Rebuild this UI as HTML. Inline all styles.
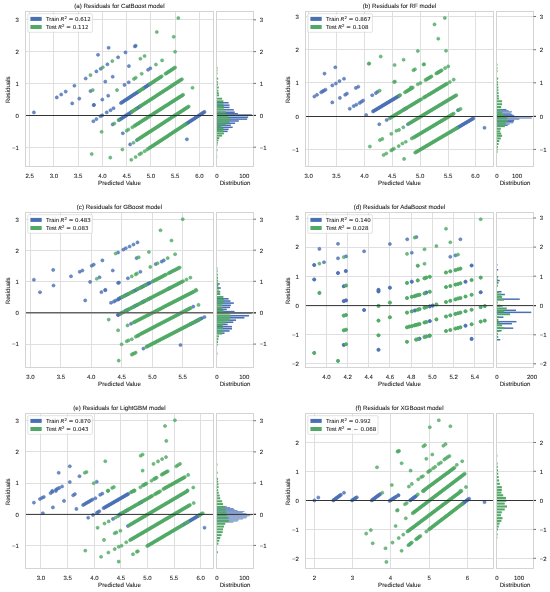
<!DOCTYPE html>
<html><head><meta charset="utf-8"><title>Residual plots</title>
<style>
html,body{margin:0;padding:0;background:#fff}
svg{display:block}
text{font-family:"Liberation Sans",sans-serif;fill:#262626;stroke:#262626;stroke-width:0.08px;text-rendering:geometricPrecision}
.tk{font-size:6.0px}
.lb{font-size:6.15px}
.lg{font-size:5.8px}
.mi{font-family:"DejaVu Sans",sans-serif;font-style:italic;font-size:5.5px}
.ms{font-family:"DejaVu Sans",sans-serif;font-size:4px}
.mr{font-family:"DejaVu Sans",sans-serif;font-size:5.5px}
.gr{stroke:#dfdfdf;stroke-width:1}
.sp{fill:none;stroke:#d4d4d4;stroke-width:1}
</style></head><body>
<svg width="550" height="592" viewBox="0 0 550 592">
<rect width="550" height="592" fill="#fff"/>
<line x1="29.5" y1="11.5" x2="29.5" y2="166.5" class="gr"/>
<line x1="53.5" y1="11.5" x2="53.5" y2="166.5" class="gr"/>
<line x1="78.5" y1="11.5" x2="78.5" y2="166.5" class="gr"/>
<line x1="102.5" y1="11.5" x2="102.5" y2="166.5" class="gr"/>
<line x1="126.5" y1="11.5" x2="126.5" y2="166.5" class="gr"/>
<line x1="150.5" y1="11.5" x2="150.5" y2="166.5" class="gr"/>
<line x1="175.5" y1="11.5" x2="175.5" y2="166.5" class="gr"/>
<line x1="199.5" y1="11.5" x2="199.5" y2="166.5" class="gr"/>
<line x1="25.5" y1="19.5" x2="213.5" y2="19.5" class="gr"/>
<line x1="216.5" y1="19.5" x2="253.5" y2="19.5" class="gr"/>
<line x1="25.5" y1="51.5" x2="213.5" y2="51.5" class="gr"/>
<line x1="216.5" y1="51.5" x2="253.5" y2="51.5" class="gr"/>
<line x1="25.5" y1="83.5" x2="213.5" y2="83.5" class="gr"/>
<line x1="216.5" y1="83.5" x2="253.5" y2="83.5" class="gr"/>
<line x1="25.5" y1="115.5" x2="213.5" y2="115.5" class="gr"/>
<line x1="216.5" y1="115.5" x2="253.5" y2="115.5" class="gr"/>
<line x1="25.5" y1="147.5" x2="213.5" y2="147.5" class="gr"/>
<line x1="216.5" y1="147.5" x2="253.5" y2="147.5" class="gr"/>
<rect x="216.9" y="102.00" width="11.71" height="1.5" fill="#4a70b4"/>
<rect x="216.9" y="104.42" width="12.64" height="1.5" fill="#4a70b4"/>
<rect x="216.9" y="106.65" width="12.64" height="1.5" fill="#4a70b4"/>
<rect x="216.9" y="109.06" width="16.91" height="1.5" fill="#4a70b4"/>
<rect x="216.9" y="111.48" width="17.84" height="1.5" fill="#4a70b4"/>
<rect x="216.9" y="112.97" width="21.00" height="1.5" fill="#4a70b4"/>
<rect x="216.9" y="114.27" width="34.94" height="1.5" fill="#4a70b4"/>
<rect x="216.9" y="116.50" width="31.23" height="1.5" fill="#4a70b4"/>
<rect x="216.9" y="118.36" width="30.30" height="1.5" fill="#4a70b4"/>
<rect x="216.9" y="120.22" width="21.93" height="1.5" fill="#4a70b4"/>
<rect x="216.9" y="122.45" width="18.22" height="1.5" fill="#4a70b4"/>
<rect x="216.9" y="124.49" width="13.94" height="1.5" fill="#4a70b4"/>
<rect x="216.9" y="126.54" width="15.80" height="1.5" fill="#4a70b4"/>
<rect x="216.9" y="128.58" width="11.71" height="1.5" fill="#4a70b4"/>
<rect x="216.9" y="130.63" width="10.78" height="1.5" fill="#4a70b4"/>
<rect x="216.9" y="66.86" width="0.56" height="1.9" fill="#50a965"/>
<rect x="216.9" y="69.46" width="0.56" height="1.9" fill="#50a965"/>
<rect x="216.9" y="72.43" width="0.56" height="1.9" fill="#50a965"/>
<rect x="216.9" y="77.64" width="1.30" height="1.9" fill="#50a965"/>
<rect x="216.9" y="80.98" width="0.93" height="1.9" fill="#50a965"/>
<rect x="216.9" y="83.59" width="1.12" height="1.9" fill="#50a965"/>
<rect x="216.9" y="86.56" width="1.86" height="1.9" fill="#50a965"/>
<rect x="216.9" y="89.72" width="1.49" height="1.9" fill="#50a965"/>
<rect x="216.9" y="92.14" width="1.86" height="1.9" fill="#50a965"/>
<rect x="216.9" y="94.37" width="2.23" height="1.9" fill="#50a965"/>
<rect x="216.9" y="97.71" width="5.20" height="1.9" fill="#50a965"/>
<rect x="216.9" y="100.31" width="6.51" height="1.9" fill="#50a965"/>
<rect x="216.9" y="103.29" width="6.51" height="1.9" fill="#50a965"/>
<rect x="216.9" y="105.89" width="7.06" height="1.9" fill="#50a965"/>
<rect x="216.9" y="108.31" width="7.06" height="1.9" fill="#50a965"/>
<rect x="216.9" y="111.28" width="8.92" height="1.9" fill="#50a965"/>
<rect x="216.9" y="113.88" width="10.78" height="1.9" fill="#50a965"/>
<rect x="216.9" y="116.30" width="11.71" height="1.9" fill="#50a965"/>
<rect x="216.9" y="118.53" width="13.20" height="1.9" fill="#50a965"/>
<rect x="216.9" y="120.95" width="12.64" height="1.9" fill="#50a965"/>
<rect x="216.9" y="123.36" width="8.92" height="1.9" fill="#50a965"/>
<rect x="216.9" y="125.59" width="4.65" height="1.9" fill="#50a965"/>
<rect x="216.9" y="127.82" width="6.51" height="1.9" fill="#50a965"/>
<rect x="216.9" y="130.05" width="6.51" height="1.9" fill="#50a965"/>
<rect x="216.9" y="132.47" width="7.06" height="1.9" fill="#50a965"/>
<rect x="216.9" y="134.70" width="5.20" height="1.9" fill="#50a965"/>
<rect x="216.9" y="137.12" width="2.42" height="1.9" fill="#50a965"/>
<rect x="216.9" y="139.35" width="1.49" height="1.9" fill="#50a965"/>
<rect x="216.9" y="141.76" width="0.93" height="1.9" fill="#50a965"/>
<rect x="216.9" y="144.18" width="0.56" height="1.9" fill="#50a965"/>
<rect x="216.9" y="149.20" width="0.56" height="1.9" fill="#50a965"/>
<rect x="216.9" y="155.70" width="0.30" height="1.9" fill="#50a965"/>
<g fill="#4a70b4" fill-opacity="0.8" stroke="#4a70b4" stroke-opacity="0.9" stroke-width="0.6"><circle cx="108.6" cy="47.8" r="1.55"/><circle cx="98.0" cy="54.8" r="1.55"/><circle cx="118.1" cy="57.3" r="1.55"/><circle cx="107.4" cy="64.3" r="1.55"/><circle cx="100.7" cy="68.8" r="1.55"/><circle cx="96.4" cy="71.4" r="1.55"/><circle cx="85.7" cy="78.5" r="1.55"/><circle cx="112.7" cy="76.7" r="1.55"/><circle cx="105.3" cy="81.6" r="1.55"/><circle cx="74.4" cy="85.7" r="1.55"/><circle cx="134.9" cy="46.4" r="1.55"/><circle cx="135.7" cy="45.7" r="1.55"/><circle cx="125.5" cy="52.4" r="1.55"/><circle cx="128.9" cy="66.1" r="1.55"/><circle cx="148.1" cy="69.8" r="1.55"/><circle cx="150.3" cy="68.3" r="1.55"/><circle cx="128.7" cy="82.3" r="1.55"/><circle cx="124.5" cy="84.9" r="1.55"/><circle cx="33.9" cy="112.4" r="1.55"/><circle cx="56.8" cy="97.4" r="1.55"/><circle cx="61.2" cy="94.5" r="1.55"/><circle cx="65.7" cy="91.6" r="1.55"/><circle cx="72.2" cy="103.4" r="1.55"/><circle cx="79.3" cy="98.6" r="1.55"/><circle cx="90.5" cy="91.1" r="1.55"/><circle cx="108.2" cy="95.7" r="1.55"/><circle cx="102.3" cy="99.6" r="1.55"/><circle cx="93.7" cy="105.1" r="1.55"/><circle cx="94.0" cy="104.9" r="1.55"/><circle cx="113.5" cy="108.2" r="1.55"/><circle cx="110.5" cy="110.2" r="1.55"/><circle cx="106.7" cy="112.4" r="1.55"/><circle cx="102.3" cy="115.3" r="1.55"/><circle cx="100.5" cy="116.2" r="1.55"/><circle cx="96.4" cy="119.1" r="1.55"/><circle cx="93.4" cy="121.2" r="1.55"/><circle cx="112.7" cy="124.4" r="1.55"/><circle cx="122.8" cy="133.3" r="1.55"/><circle cx="130.1" cy="144.4" r="1.55"/><circle cx="136.9" cy="140.1" r="1.55"/><circle cx="186.9" cy="139.3" r="1.55"/><circle cx="121.0" cy="103.0" r="1.55"/><circle cx="121.9" cy="102.4" r="1.55"/><circle cx="122.8" cy="101.8" r="1.55"/><circle cx="123.7" cy="101.2" r="1.55"/><circle cx="124.6" cy="100.6" r="1.55"/><circle cx="125.5" cy="100.0" r="1.55"/><circle cx="126.4" cy="99.5" r="1.55"/><circle cx="127.3" cy="98.9" r="1.55"/><circle cx="128.2" cy="98.3" r="1.55"/><circle cx="129.1" cy="97.7" r="1.55"/><circle cx="130.0" cy="97.1" r="1.55"/><circle cx="130.9" cy="96.5" r="1.55"/><circle cx="131.8" cy="95.9" r="1.55"/><circle cx="132.7" cy="95.3" r="1.55"/><circle cx="133.6" cy="94.7" r="1.55"/><circle cx="134.5" cy="94.1" r="1.55"/><circle cx="135.4" cy="93.6" r="1.55"/><circle cx="136.3" cy="93.0" r="1.55"/><circle cx="137.2" cy="92.4" r="1.55"/><circle cx="138.1" cy="91.8" r="1.55"/><circle cx="139.0" cy="91.2" r="1.55"/><circle cx="143.0" cy="88.6" r="1.55"/><circle cx="143.9" cy="88.0" r="1.55"/><circle cx="144.8" cy="87.4" r="1.55"/><circle cx="145.6" cy="86.8" r="1.55"/><circle cx="146.5" cy="86.3" r="1.55"/><circle cx="147.4" cy="85.7" r="1.55"/><circle cx="148.2" cy="85.1" r="1.55"/><circle cx="149.1" cy="84.5" r="1.55"/><circle cx="150.0" cy="84.0" r="1.55"/><circle cx="119.0" cy="120.1" r="1.55"/><circle cx="119.9" cy="119.5" r="1.55"/><circle cx="120.8" cy="118.9" r="1.55"/><circle cx="121.7" cy="118.3" r="1.55"/><circle cx="122.7" cy="117.7" r="1.55"/><circle cx="123.6" cy="117.1" r="1.55"/><circle cx="124.5" cy="116.5" r="1.55"/><circle cx="125.4" cy="115.9" r="1.55"/><circle cx="126.3" cy="115.3" r="1.55"/><circle cx="127.2" cy="114.7" r="1.55"/><circle cx="128.1" cy="114.2" r="1.55"/><circle cx="129.1" cy="113.6" r="1.55"/><circle cx="130.0" cy="113.0" r="1.55"/><circle cx="130.9" cy="112.4" r="1.55"/><circle cx="131.8" cy="111.8" r="1.55"/><circle cx="136.0" cy="109.0" r="1.55"/><circle cx="137.0" cy="108.4" r="1.55"/><circle cx="138.0" cy="107.7" r="1.55"/><circle cx="139.0" cy="107.1" r="1.55"/><circle cx="140.0" cy="106.4" r="1.55"/><circle cx="185.7" cy="124.2" r="1.55"/><circle cx="186.6" cy="123.6" r="1.55"/><circle cx="187.6" cy="123.0" r="1.55"/><circle cx="188.5" cy="122.4" r="1.55"/><circle cx="189.5" cy="121.7" r="1.55"/><circle cx="190.4" cy="121.1" r="1.55"/><circle cx="191.3" cy="120.5" r="1.55"/><circle cx="192.3" cy="119.9" r="1.55"/><circle cx="193.2" cy="119.3" r="1.55"/><circle cx="194.2" cy="118.7" r="1.55"/><circle cx="195.1" cy="118.1" r="1.55"/><circle cx="196.0" cy="117.4" r="1.55"/><circle cx="197.0" cy="116.8" r="1.55"/><circle cx="197.9" cy="116.2" r="1.55"/><circle cx="198.9" cy="115.6" r="1.55"/><circle cx="199.8" cy="115.0" r="1.55"/><circle cx="200.7" cy="114.4" r="1.55"/><circle cx="201.7" cy="113.7" r="1.55"/><circle cx="202.6" cy="113.1" r="1.55"/><circle cx="203.6" cy="112.5" r="1.55"/><circle cx="204.5" cy="111.9" r="1.55"/></g>
<g fill="#50a965" fill-opacity="0.8" stroke="#50a965" stroke-opacity="0.9" stroke-width="0.6"><circle cx="112.3" cy="61.1" r="1.55"/><circle cx="102.8" cy="67.3" r="1.55"/><circle cx="90.5" cy="75.1" r="1.55"/><circle cx="178.3" cy="18.0" r="1.55"/><circle cx="156.8" cy="32.0" r="1.55"/><circle cx="173.7" cy="36.8" r="1.55"/><circle cx="175.1" cy="51.7" r="1.55"/><circle cx="140.4" cy="58.7" r="1.55"/><circle cx="144.6" cy="56.0" r="1.55"/><circle cx="162.1" cy="60.4" r="1.55"/><circle cx="155.9" cy="64.5" r="1.55"/><circle cx="141.7" cy="73.7" r="1.55"/><circle cx="134.0" cy="78.9" r="1.55"/><circle cx="135.7" cy="77.7" r="1.55"/><circle cx="192.5" cy="87.8" r="1.55"/><circle cx="92.7" cy="90.1" r="1.55"/><circle cx="117.0" cy="90.1" r="1.55"/><circle cx="118.7" cy="120.0" r="1.55"/><circle cx="114.4" cy="123.5" r="1.55"/><circle cx="101.6" cy="131.8" r="1.55"/><circle cx="91.7" cy="154.0" r="1.55"/><circle cx="110.3" cy="157.6" r="1.55"/><circle cx="126.7" cy="130.7" r="1.55"/><circle cx="128.4" cy="129.5" r="1.55"/><circle cx="132.3" cy="127.3" r="1.55"/><circle cx="133.5" cy="142.7" r="1.55"/><circle cx="131.3" cy="159.8" r="1.55"/><circle cx="135.6" cy="157.0" r="1.55"/><circle cx="139.5" cy="154.3" r="1.55"/><circle cx="141.2" cy="153.3" r="1.55"/><circle cx="144.6" cy="151.2" r="1.55"/><circle cx="147.2" cy="149.5" r="1.55"/><circle cx="122.4" cy="149.5" r="1.55"/><circle cx="139.0" cy="91.2" r="1.55"/><circle cx="140.0" cy="90.5" r="1.55"/><circle cx="141.0" cy="89.9" r="1.55"/><circle cx="142.0" cy="89.2" r="1.55"/><circle cx="143.0" cy="88.6" r="1.55"/><circle cx="150.0" cy="84.0" r="1.55"/><circle cx="150.9" cy="83.4" r="1.55"/><circle cx="151.8" cy="82.8" r="1.55"/><circle cx="152.7" cy="82.2" r="1.55"/><circle cx="153.6" cy="81.6" r="1.55"/><circle cx="154.5" cy="81.0" r="1.55"/><circle cx="155.4" cy="80.4" r="1.55"/><circle cx="156.3" cy="79.8" r="1.55"/><circle cx="157.2" cy="79.3" r="1.55"/><circle cx="158.1" cy="78.7" r="1.55"/><circle cx="159.0" cy="78.1" r="1.55"/><circle cx="159.9" cy="77.5" r="1.55"/><circle cx="160.8" cy="76.9" r="1.55"/><circle cx="161.7" cy="76.3" r="1.55"/><circle cx="165.5" cy="73.8" r="1.55"/><circle cx="166.5" cy="73.2" r="1.55"/><circle cx="167.4" cy="72.5" r="1.55"/><circle cx="168.4" cy="71.9" r="1.55"/><circle cx="169.3" cy="71.3" r="1.55"/><circle cx="170.3" cy="70.7" r="1.55"/><circle cx="171.3" cy="70.0" r="1.55"/><circle cx="172.2" cy="69.4" r="1.55"/><circle cx="173.2" cy="68.8" r="1.55"/><circle cx="174.1" cy="68.1" r="1.55"/><circle cx="175.1" cy="67.5" r="1.55"/><circle cx="131.8" cy="111.8" r="1.55"/><circle cx="132.6" cy="111.2" r="1.55"/><circle cx="133.5" cy="110.7" r="1.55"/><circle cx="134.3" cy="110.1" r="1.55"/><circle cx="135.2" cy="109.6" r="1.55"/><circle cx="136.0" cy="109.0" r="1.55"/><circle cx="140.0" cy="106.4" r="1.55"/><circle cx="140.9" cy="105.8" r="1.55"/><circle cx="141.9" cy="105.2" r="1.55"/><circle cx="142.8" cy="104.6" r="1.55"/><circle cx="143.7" cy="104.0" r="1.55"/><circle cx="144.7" cy="103.4" r="1.55"/><circle cx="145.6" cy="102.8" r="1.55"/><circle cx="146.5" cy="102.2" r="1.55"/><circle cx="147.4" cy="101.6" r="1.55"/><circle cx="148.4" cy="101.0" r="1.55"/><circle cx="149.3" cy="100.4" r="1.55"/><circle cx="150.2" cy="99.8" r="1.55"/><circle cx="151.2" cy="99.2" r="1.55"/><circle cx="152.1" cy="98.6" r="1.55"/><circle cx="153.0" cy="98.0" r="1.55"/><circle cx="154.0" cy="97.4" r="1.55"/><circle cx="154.9" cy="96.8" r="1.55"/><circle cx="155.8" cy="96.2" r="1.55"/><circle cx="156.8" cy="95.5" r="1.55"/><circle cx="157.7" cy="94.9" r="1.55"/><circle cx="158.6" cy="94.3" r="1.55"/><circle cx="159.6" cy="93.7" r="1.55"/><circle cx="160.5" cy="93.1" r="1.55"/><circle cx="161.4" cy="92.5" r="1.55"/><circle cx="162.3" cy="91.9" r="1.55"/><circle cx="163.3" cy="91.3" r="1.55"/><circle cx="164.2" cy="90.7" r="1.55"/><circle cx="165.1" cy="90.1" r="1.55"/><circle cx="166.1" cy="89.5" r="1.55"/><circle cx="167.0" cy="88.9" r="1.55"/><circle cx="167.9" cy="88.3" r="1.55"/><circle cx="168.9" cy="87.7" r="1.55"/><circle cx="169.8" cy="87.1" r="1.55"/><circle cx="170.7" cy="86.5" r="1.55"/><circle cx="171.7" cy="85.9" r="1.55"/><circle cx="172.6" cy="85.3" r="1.55"/><circle cx="173.5" cy="84.6" r="1.55"/><circle cx="174.5" cy="84.0" r="1.55"/><circle cx="175.4" cy="83.4" r="1.55"/><circle cx="176.3" cy="82.8" r="1.55"/><circle cx="177.2" cy="82.2" r="1.55"/><circle cx="178.2" cy="81.6" r="1.55"/><circle cx="179.1" cy="81.0" r="1.55"/><circle cx="180.0" cy="80.4" r="1.55"/><circle cx="181.0" cy="79.8" r="1.55"/><circle cx="181.9" cy="79.2" r="1.55"/><circle cx="134.4" cy="125.9" r="1.55"/><circle cx="135.3" cy="125.3" r="1.55"/><circle cx="136.2" cy="124.7" r="1.55"/><circle cx="137.2" cy="124.1" r="1.55"/><circle cx="138.1" cy="123.6" r="1.55"/><circle cx="139.0" cy="123.0" r="1.55"/><circle cx="139.9" cy="122.4" r="1.55"/><circle cx="140.8" cy="121.8" r="1.55"/><circle cx="141.8" cy="121.2" r="1.55"/><circle cx="142.7" cy="120.6" r="1.55"/><circle cx="143.6" cy="120.0" r="1.55"/><circle cx="144.5" cy="119.4" r="1.55"/><circle cx="145.4" cy="118.9" r="1.55"/><circle cx="146.3" cy="118.3" r="1.55"/><circle cx="147.3" cy="117.7" r="1.55"/><circle cx="148.2" cy="117.1" r="1.55"/><circle cx="149.1" cy="116.5" r="1.55"/><circle cx="150.0" cy="115.9" r="1.55"/><circle cx="150.9" cy="115.3" r="1.55"/><circle cx="151.9" cy="114.8" r="1.55"/><circle cx="152.8" cy="114.2" r="1.55"/><circle cx="153.7" cy="113.6" r="1.55"/><circle cx="154.6" cy="113.0" r="1.55"/><circle cx="155.5" cy="112.4" r="1.55"/><circle cx="156.5" cy="111.8" r="1.55"/><circle cx="157.4" cy="111.2" r="1.55"/><circle cx="158.3" cy="110.6" r="1.55"/><circle cx="159.2" cy="110.1" r="1.55"/><circle cx="160.1" cy="109.5" r="1.55"/><circle cx="161.0" cy="108.9" r="1.55"/><circle cx="162.0" cy="108.3" r="1.55"/><circle cx="162.9" cy="107.7" r="1.55"/><circle cx="163.8" cy="107.1" r="1.55"/><circle cx="164.7" cy="106.5" r="1.55"/><circle cx="165.6" cy="105.9" r="1.55"/><circle cx="166.6" cy="105.4" r="1.55"/><circle cx="167.5" cy="104.8" r="1.55"/><circle cx="168.4" cy="104.2" r="1.55"/><circle cx="169.3" cy="103.6" r="1.55"/><circle cx="170.2" cy="103.0" r="1.55"/><circle cx="171.2" cy="102.4" r="1.55"/><circle cx="172.1" cy="101.8" r="1.55"/><circle cx="173.0" cy="101.3" r="1.55"/><circle cx="173.9" cy="100.7" r="1.55"/><circle cx="174.8" cy="100.1" r="1.55"/><circle cx="175.7" cy="99.5" r="1.55"/><circle cx="176.7" cy="98.9" r="1.55"/><circle cx="177.6" cy="98.3" r="1.55"/><circle cx="178.5" cy="97.7" r="1.55"/><circle cx="179.4" cy="97.1" r="1.55"/><circle cx="180.3" cy="96.6" r="1.55"/><circle cx="181.3" cy="96.0" r="1.55"/><circle cx="182.2" cy="95.4" r="1.55"/><circle cx="183.1" cy="94.8" r="1.55"/><circle cx="138.1" cy="139.3" r="1.55"/><circle cx="139.0" cy="138.7" r="1.55"/><circle cx="139.9" cy="138.1" r="1.55"/><circle cx="140.9" cy="137.5" r="1.55"/><circle cx="141.8" cy="136.9" r="1.55"/><circle cx="142.7" cy="136.3" r="1.55"/><circle cx="143.6" cy="135.7" r="1.55"/><circle cx="144.5" cy="135.1" r="1.55"/><circle cx="145.5" cy="134.5" r="1.55"/><circle cx="146.4" cy="133.9" r="1.55"/><circle cx="147.3" cy="133.3" r="1.55"/><circle cx="148.2" cy="132.7" r="1.55"/><circle cx="149.1" cy="132.1" r="1.55"/><circle cx="150.1" cy="131.5" r="1.55"/><circle cx="151.0" cy="131.0" r="1.55"/><circle cx="151.9" cy="130.4" r="1.55"/><circle cx="152.8" cy="129.8" r="1.55"/><circle cx="153.7" cy="129.2" r="1.55"/><circle cx="154.7" cy="128.6" r="1.55"/><circle cx="155.6" cy="128.0" r="1.55"/><circle cx="156.5" cy="127.4" r="1.55"/><circle cx="157.4" cy="126.8" r="1.55"/><circle cx="158.3" cy="126.2" r="1.55"/><circle cx="159.3" cy="125.6" r="1.55"/><circle cx="160.2" cy="125.0" r="1.55"/><circle cx="161.1" cy="124.4" r="1.55"/><circle cx="162.0" cy="123.8" r="1.55"/><circle cx="162.9" cy="123.2" r="1.55"/><circle cx="163.9" cy="122.6" r="1.55"/><circle cx="164.8" cy="122.0" r="1.55"/><circle cx="165.7" cy="121.4" r="1.55"/><circle cx="166.6" cy="120.8" r="1.55"/><circle cx="167.5" cy="120.2" r="1.55"/><circle cx="168.5" cy="119.6" r="1.55"/><circle cx="169.4" cy="119.0" r="1.55"/><circle cx="170.3" cy="118.4" r="1.55"/><circle cx="171.2" cy="117.8" r="1.55"/><circle cx="172.1" cy="117.2" r="1.55"/><circle cx="173.1" cy="116.6" r="1.55"/><circle cx="174.0" cy="116.0" r="1.55"/><circle cx="174.9" cy="115.4" r="1.55"/><circle cx="175.8" cy="114.8" r="1.55"/><circle cx="176.7" cy="114.3" r="1.55"/><circle cx="177.7" cy="113.7" r="1.55"/><circle cx="178.6" cy="113.1" r="1.55"/><circle cx="179.5" cy="112.5" r="1.55"/><circle cx="180.4" cy="111.9" r="1.55"/><circle cx="181.3" cy="111.3" r="1.55"/><circle cx="182.3" cy="110.7" r="1.55"/><circle cx="183.2" cy="110.1" r="1.55"/><circle cx="184.1" cy="109.5" r="1.55"/><circle cx="185.0" cy="108.9" r="1.55"/><circle cx="185.9" cy="108.3" r="1.55"/><circle cx="186.9" cy="107.7" r="1.55"/><circle cx="187.8" cy="107.1" r="1.55"/><circle cx="188.7" cy="106.5" r="1.55"/><circle cx="148.9" cy="148.3" r="1.55"/><circle cx="149.8" cy="147.7" r="1.55"/><circle cx="150.7" cy="147.1" r="1.55"/><circle cx="151.7" cy="146.5" r="1.55"/><circle cx="152.6" cy="145.9" r="1.55"/><circle cx="153.5" cy="145.3" r="1.55"/><circle cx="154.4" cy="144.7" r="1.55"/><circle cx="155.3" cy="144.1" r="1.55"/><circle cx="156.3" cy="143.5" r="1.55"/><circle cx="157.2" cy="142.9" r="1.55"/><circle cx="158.1" cy="142.3" r="1.55"/><circle cx="159.0" cy="141.7" r="1.55"/><circle cx="159.9" cy="141.1" r="1.55"/><circle cx="160.9" cy="140.5" r="1.55"/><circle cx="161.8" cy="139.9" r="1.55"/><circle cx="162.7" cy="139.3" r="1.55"/><circle cx="163.6" cy="138.7" r="1.55"/><circle cx="164.5" cy="138.1" r="1.55"/><circle cx="165.5" cy="137.5" r="1.55"/><circle cx="166.4" cy="136.9" r="1.55"/><circle cx="167.3" cy="136.3" r="1.55"/><circle cx="168.2" cy="135.7" r="1.55"/><circle cx="169.1" cy="135.0" r="1.55"/><circle cx="170.1" cy="134.4" r="1.55"/><circle cx="171.0" cy="133.8" r="1.55"/><circle cx="171.9" cy="133.2" r="1.55"/><circle cx="172.8" cy="132.6" r="1.55"/><circle cx="173.7" cy="132.0" r="1.55"/><circle cx="174.7" cy="131.4" r="1.55"/><circle cx="175.6" cy="130.8" r="1.55"/><circle cx="176.5" cy="130.2" r="1.55"/><circle cx="177.4" cy="129.6" r="1.55"/><circle cx="178.3" cy="129.0" r="1.55"/><circle cx="179.3" cy="128.4" r="1.55"/><circle cx="180.2" cy="127.8" r="1.55"/><circle cx="181.1" cy="127.2" r="1.55"/><circle cx="182.0" cy="126.6" r="1.55"/><circle cx="182.9" cy="126.0" r="1.55"/><circle cx="183.9" cy="125.4" r="1.55"/><circle cx="184.8" cy="124.8" r="1.55"/><circle cx="185.7" cy="124.2" r="1.55"/></g>
<line x1="25.5" y1="115.5" x2="213.5" y2="115.5" stroke="#333" stroke-width="1.0"/>
<line x1="216.5" y1="115.5" x2="256.0" y2="115.5" stroke="#333" stroke-width="1.0"/>
<rect x="25.5" y="11.5" width="188.0" height="155.0" class="sp"/>
<rect x="216.5" y="11.5" width="37.0" height="155.0" class="sp"/>
<text x="29.6" y="178.3" class="tk" text-anchor="middle">2.5</text>
<text x="53.8" y="178.3" class="tk" text-anchor="middle">3.0</text>
<text x="78.1" y="178.3" class="tk" text-anchor="middle">3.5</text>
<text x="102.3" y="178.3" class="tk" text-anchor="middle">4.0</text>
<text x="126.6" y="178.3" class="tk" text-anchor="middle">4.5</text>
<text x="150.8" y="178.3" class="tk" text-anchor="middle">5.0</text>
<text x="175.1" y="178.3" class="tk" text-anchor="middle">5.5</text>
<text x="199.3" y="178.3" class="tk" text-anchor="middle">6.0</text>
<text x="216.8" y="178.3" class="tk" text-anchor="middle">0</text>
<text x="244.3" y="178.3" class="tk" text-anchor="middle">100</text>
<text x="18.8" y="22.150000000000002" class="tk" text-anchor="end">3</text>
<line x1="253.5" y1="19.8" x2="256.0" y2="19.8" stroke="#333" stroke-width="0.7"/>
<text x="259.8" y="22.150000000000002" class="tk">3</text>
<text x="18.8" y="53.95" class="tk" text-anchor="end">2</text>
<line x1="253.5" y1="51.6" x2="256.0" y2="51.6" stroke="#333" stroke-width="0.7"/>
<text x="259.8" y="53.95" class="tk">2</text>
<text x="18.8" y="85.75" class="tk" text-anchor="end">1</text>
<line x1="253.5" y1="83.4" x2="256.0" y2="83.4" stroke="#333" stroke-width="0.7"/>
<text x="259.8" y="85.75" class="tk">1</text>
<text x="18.8" y="117.64999999999999" class="tk" text-anchor="end">0</text>
<line x1="253.5" y1="115.3" x2="256.0" y2="115.3" stroke="#333" stroke-width="0.7"/>
<text x="259.8" y="117.64999999999999" class="tk">0</text>
<text x="18.8" y="149.54999999999998" class="tk" text-anchor="end">−1</text>
<line x1="253.5" y1="147.2" x2="256.0" y2="147.2" stroke="#333" stroke-width="0.7"/>
<text x="259.8" y="149.54999999999998" class="tk">−1</text>
<text x="119.5" y="185.3" class="lb" text-anchor="middle">Predicted Value</text>
<text x="235.0" y="185.3" class="lb" text-anchor="middle">Distribution</text>
<text transform="translate(9.7,89.8) rotate(-90)" class="lb" text-anchor="middle">Residuals</text>
<text x="119.5" y="8.1" class="lb" text-anchor="middle">(a) Residuals for CatBoost model</text>
<rect x="27.8" y="13.7" width="64.6" height="18.6" rx="1" fill="#fff" fill-opacity="0.8" stroke="#d0d0d0" stroke-width="0.6"/>
<rect x="30.400000000000002" y="16.9" width="11.3" height="4" fill="#4a70b4"/>
<rect x="30.400000000000002" y="25.0" width="11.3" height="4" fill="#50a965"/>
<text x="46.0" y="21.0" class="lg">Train <tspan class="mi">R</tspan><tspan class="ms" dy="-2.2">2</tspan><tspan class="mr" dy="2.2"> = 0.612</tspan></text>
<text x="46.0" y="29.1" class="lg">Test <tspan class="mi">R</tspan><tspan class="ms" dy="-2.2">2</tspan><tspan class="mr" dy="2.2"> = 0.112</tspan></text>
<line x1="308.5" y1="11.5" x2="308.5" y2="166.5" class="gr"/>
<line x1="336.5" y1="11.5" x2="336.5" y2="166.5" class="gr"/>
<line x1="364.5" y1="11.5" x2="364.5" y2="166.5" class="gr"/>
<line x1="392.5" y1="11.5" x2="392.5" y2="166.5" class="gr"/>
<line x1="420.5" y1="11.5" x2="420.5" y2="166.5" class="gr"/>
<line x1="448.5" y1="11.5" x2="448.5" y2="166.5" class="gr"/>
<line x1="475.5" y1="11.5" x2="475.5" y2="166.5" class="gr"/>
<line x1="305.5" y1="16.5" x2="493.5" y2="16.5" class="gr"/>
<line x1="496.5" y1="16.5" x2="533.5" y2="16.5" class="gr"/>
<line x1="305.5" y1="49.5" x2="493.5" y2="49.5" class="gr"/>
<line x1="496.5" y1="49.5" x2="533.5" y2="49.5" class="gr"/>
<line x1="305.5" y1="82.5" x2="493.5" y2="82.5" class="gr"/>
<line x1="496.5" y1="82.5" x2="533.5" y2="82.5" class="gr"/>
<line x1="305.5" y1="116.5" x2="493.5" y2="116.5" class="gr"/>
<line x1="496.5" y1="116.5" x2="533.5" y2="116.5" class="gr"/>
<line x1="305.5" y1="149.5" x2="493.5" y2="149.5" class="gr"/>
<line x1="496.5" y1="149.5" x2="533.5" y2="149.5" class="gr"/>
<rect x="496.9" y="108.94" width="9.48" height="1.0" fill="#4a70b4"/>
<rect x="496.9" y="110.24" width="11.71" height="1.0" fill="#4a70b4"/>
<rect x="496.9" y="111.36" width="15.06" height="1.0" fill="#4a70b4"/>
<rect x="496.9" y="112.66" width="13.94" height="1.0" fill="#4a70b4"/>
<rect x="496.9" y="113.78" width="15.43" height="1.0" fill="#4a70b4"/>
<rect x="496.9" y="114.89" width="17.29" height="1.0" fill="#4a70b4"/>
<rect x="496.9" y="116.19" width="20.07" height="1.0" fill="#4a70b4"/>
<rect x="496.9" y="117.49" width="34.94" height="1.0" fill="#4a70b4"/>
<rect x="496.9" y="118.61" width="22.49" height="1.0" fill="#4a70b4"/>
<rect x="496.9" y="119.91" width="17.29" height="1.0" fill="#4a70b4"/>
<rect x="496.9" y="121.02" width="16.91" height="1.0" fill="#4a70b4"/>
<rect x="496.9" y="122.33" width="16.36" height="1.0" fill="#4a70b4"/>
<rect x="496.9" y="123.63" width="12.64" height="1.0" fill="#4a70b4"/>
<rect x="496.9" y="124.93" width="10.78" height="1.0" fill="#4a70b4"/>
<rect x="496.9" y="63.65" width="0.56" height="2.0" fill="#50a965"/>
<rect x="496.9" y="67.36" width="0.56" height="2.0" fill="#50a965"/>
<rect x="496.9" y="70.15" width="0.56" height="2.0" fill="#50a965"/>
<rect x="496.9" y="77.59" width="1.30" height="2.0" fill="#50a965"/>
<rect x="496.9" y="80.93" width="0.93" height="2.0" fill="#50a965"/>
<rect x="496.9" y="83.54" width="1.30" height="2.0" fill="#50a965"/>
<rect x="496.9" y="86.51" width="1.49" height="2.0" fill="#50a965"/>
<rect x="496.9" y="89.30" width="1.49" height="2.0" fill="#50a965"/>
<rect x="496.9" y="92.09" width="1.67" height="2.0" fill="#50a965"/>
<rect x="496.9" y="94.87" width="1.86" height="2.0" fill="#50a965"/>
<rect x="496.9" y="97.48" width="2.04" height="2.0" fill="#50a965"/>
<rect x="496.9" y="100.26" width="5.20" height="2.0" fill="#50a965"/>
<rect x="496.9" y="103.24" width="5.20" height="2.0" fill="#50a965"/>
<rect x="496.9" y="106.03" width="4.28" height="2.0" fill="#50a965"/>
<rect x="496.9" y="108.81" width="4.65" height="2.0" fill="#50a965"/>
<rect x="496.9" y="111.79" width="5.20" height="2.0" fill="#50a965"/>
<rect x="496.9" y="114.02" width="6.51" height="2.0" fill="#50a965"/>
<rect x="496.9" y="116.99" width="10.22" height="2.0" fill="#50a965"/>
<rect x="496.9" y="119.78" width="10.78" height="2.0" fill="#50a965"/>
<rect x="496.9" y="122.57" width="8.92" height="2.0" fill="#50a965"/>
<rect x="496.9" y="125.17" width="7.99" height="2.0" fill="#50a965"/>
<rect x="496.9" y="127.77" width="3.90" height="2.0" fill="#50a965"/>
<rect x="496.9" y="130.38" width="3.35" height="2.0" fill="#50a965"/>
<rect x="496.9" y="132.61" width="4.28" height="2.0" fill="#50a965"/>
<rect x="496.9" y="134.84" width="5.20" height="2.0" fill="#50a965"/>
<rect x="496.9" y="137.44" width="3.90" height="2.0" fill="#50a965"/>
<rect x="496.9" y="140.04" width="2.42" height="2.0" fill="#50a965"/>
<rect x="496.9" y="143.01" width="1.67" height="2.0" fill="#50a965"/>
<rect x="496.9" y="145.99" width="0.93" height="2.0" fill="#50a965"/>
<rect x="496.9" y="148.59" width="0.74" height="2.0" fill="#50a965"/>
<rect x="496.9" y="151.01" width="0.56" height="2.0" fill="#50a965"/>
<g fill="#4a70b4" fill-opacity="0.8" stroke="#4a70b4" stroke-opacity="0.9" stroke-width="0.6"><circle cx="335.3" cy="67.3" r="1.55"/><circle cx="324.5" cy="73.6" r="1.55"/><circle cx="344.0" cy="78.7" r="1.55"/><circle cx="339.5" cy="81.1" r="1.55"/><circle cx="335.9" cy="83.5" r="1.55"/><circle cx="332.3" cy="85.4" r="1.55"/><circle cx="358.3" cy="86.7" r="1.55"/><circle cx="355.9" cy="87.9" r="1.55"/><circle cx="314.4" cy="96.5" r="1.55"/><circle cx="317.0" cy="94.8" r="1.55"/><circle cx="321.2" cy="92.3" r="1.55"/><circle cx="322.6" cy="91.4" r="1.55"/><circle cx="324.0" cy="90.6" r="1.55"/><circle cx="325.5" cy="89.7" r="1.55"/><circle cx="332.3" cy="102.4" r="1.55"/><circle cx="339.9" cy="97.9" r="1.55"/><circle cx="345.2" cy="94.8" r="1.55"/><circle cx="346.9" cy="93.6" r="1.55"/><circle cx="349.8" cy="108.7" r="1.55"/><circle cx="353.7" cy="106.1" r="1.55"/><circle cx="356.3" cy="104.7" r="1.55"/><circle cx="359.7" cy="102.9" r="1.55"/><circle cx="361.4" cy="101.7" r="1.55"/><circle cx="363.1" cy="100.6" r="1.55"/><circle cx="372.2" cy="95.2" r="1.55"/><circle cx="375.9" cy="93.1" r="1.55"/><circle cx="377.6" cy="91.8" r="1.55"/><circle cx="366.2" cy="115.0" r="1.55"/><circle cx="379.3" cy="124.2" r="1.55"/><circle cx="386.7" cy="120.0" r="1.55"/><circle cx="458.0" cy="110.2" r="1.55"/><circle cx="484.5" cy="127.8" r="1.55"/><circle cx="407.9" cy="124.2" r="1.55"/><circle cx="373.0" cy="111.4" r="1.55"/><circle cx="373.9" cy="110.8" r="1.55"/><circle cx="374.9" cy="110.3" r="1.55"/><circle cx="375.8" cy="109.7" r="1.55"/><circle cx="376.7" cy="109.2" r="1.55"/><circle cx="377.6" cy="108.6" r="1.55"/><circle cx="378.6" cy="108.1" r="1.55"/><circle cx="379.5" cy="107.5" r="1.55"/><circle cx="380.4" cy="107.0" r="1.55"/><circle cx="381.4" cy="106.4" r="1.55"/><circle cx="382.3" cy="105.8" r="1.55"/><circle cx="383.2" cy="105.3" r="1.55"/><circle cx="384.1" cy="104.7" r="1.55"/><circle cx="385.1" cy="104.2" r="1.55"/><circle cx="386.0" cy="103.6" r="1.55"/><circle cx="386.9" cy="103.1" r="1.55"/><circle cx="387.9" cy="102.5" r="1.55"/><circle cx="388.8" cy="102.0" r="1.55"/><circle cx="389.7" cy="101.4" r="1.55"/><circle cx="390.6" cy="100.8" r="1.55"/><circle cx="391.6" cy="100.3" r="1.55"/><circle cx="392.5" cy="99.7" r="1.55"/><circle cx="393.4" cy="99.2" r="1.55"/><circle cx="394.4" cy="98.6" r="1.55"/><circle cx="395.3" cy="98.1" r="1.55"/><circle cx="396.2" cy="97.5" r="1.55"/><circle cx="397.1" cy="97.0" r="1.55"/><circle cx="398.1" cy="96.4" r="1.55"/><circle cx="399.0" cy="95.8" r="1.55"/><circle cx="404.0" cy="109.6" r="1.55"/><circle cx="405.0" cy="109.0" r="1.55"/><circle cx="406.0" cy="108.4" r="1.55"/><circle cx="457.1" cy="127.9" r="1.55"/><circle cx="458.1" cy="127.4" r="1.55"/><circle cx="459.0" cy="126.8" r="1.55"/><circle cx="460.0" cy="126.3" r="1.55"/><circle cx="460.9" cy="125.7" r="1.55"/><circle cx="461.9" cy="125.1" r="1.55"/><circle cx="462.8" cy="124.6" r="1.55"/><circle cx="463.8" cy="124.0" r="1.55"/><circle cx="464.7" cy="123.4" r="1.55"/><circle cx="465.7" cy="122.9" r="1.55"/><circle cx="466.6" cy="122.3" r="1.55"/><circle cx="467.6" cy="121.8" r="1.55"/><circle cx="468.5" cy="121.2" r="1.55"/><circle cx="469.5" cy="120.6" r="1.55"/><circle cx="470.4" cy="120.1" r="1.55"/><circle cx="471.4" cy="119.5" r="1.55"/><circle cx="472.3" cy="119.0" r="1.55"/><circle cx="473.3" cy="118.4" r="1.55"/></g>
<g fill="#50a965" fill-opacity="0.8" stroke="#50a965" stroke-opacity="0.9" stroke-width="0.6"><circle cx="380.7" cy="56.5" r="1.55"/><circle cx="368.7" cy="63.7" r="1.55"/><circle cx="369.3" cy="63.5" r="1.55"/><circle cx="394.6" cy="65.0" r="1.55"/><circle cx="394.2" cy="82.0" r="1.55"/><circle cx="394.9" cy="81.6" r="1.55"/><circle cx="444.8" cy="18.0" r="1.55"/><circle cx="434.5" cy="24.4" r="1.55"/><circle cx="438.3" cy="38.7" r="1.55"/><circle cx="417.8" cy="51.0" r="1.55"/><circle cx="446.0" cy="50.7" r="1.55"/><circle cx="403.6" cy="59.7" r="1.55"/><circle cx="423.6" cy="64.5" r="1.55"/><circle cx="424.1" cy="64.2" r="1.55"/><circle cx="413.5" cy="70.2" r="1.55"/><circle cx="414.9" cy="69.3" r="1.55"/><circle cx="379.7" cy="90.6" r="1.55"/><circle cx="391.3" cy="133.8" r="1.55"/><circle cx="396.4" cy="130.7" r="1.55"/><circle cx="379.9" cy="140.1" r="1.55"/><circle cx="382.3" cy="138.9" r="1.55"/><circle cx="369.9" cy="146.5" r="1.55"/><circle cx="383.6" cy="155.0" r="1.55"/><circle cx="386.2" cy="153.5" r="1.55"/><circle cx="391.3" cy="150.4" r="1.55"/><circle cx="392.5" cy="149.5" r="1.55"/><circle cx="393.9" cy="148.7" r="1.55"/><circle cx="398.7" cy="146.1" r="1.55"/><circle cx="402.4" cy="143.5" r="1.55"/><circle cx="405.8" cy="141.8" r="1.55"/><circle cx="411.8" cy="138.4" r="1.55"/><circle cx="458.5" cy="109.9" r="1.55"/><circle cx="460.5" cy="108.9" r="1.55"/><circle cx="404.1" cy="158.9" r="1.55"/><circle cx="399.0" cy="129.9" r="1.55"/><circle cx="403.3" cy="127.3" r="1.55"/><circle cx="449.8" cy="82.0" r="1.55"/><circle cx="453.7" cy="79.6" r="1.55"/><circle cx="445.1" cy="68.1" r="1.55"/><circle cx="448.2" cy="66.4" r="1.55"/><circle cx="411.0" cy="87.4" r="1.55"/><circle cx="417.8" cy="84.3" r="1.55"/><circle cx="420.4" cy="83.0" r="1.55"/><circle cx="399.3" cy="95.7" r="1.55"/><circle cx="400.2" cy="95.1" r="1.55"/><circle cx="405.0" cy="92.3" r="1.55"/><circle cx="406.0" cy="91.7" r="1.55"/><circle cx="406.9" cy="91.1" r="1.55"/><circle cx="407.9" cy="90.5" r="1.55"/><circle cx="408.9" cy="89.9" r="1.55"/><circle cx="409.8" cy="89.4" r="1.55"/><circle cx="410.8" cy="88.8" r="1.55"/><circle cx="411.7" cy="88.2" r="1.55"/><circle cx="412.7" cy="87.6" r="1.55"/><circle cx="425.5" cy="80.0" r="1.55"/><circle cx="426.5" cy="79.4" r="1.55"/><circle cx="427.5" cy="78.8" r="1.55"/><circle cx="428.5" cy="78.2" r="1.55"/><circle cx="429.5" cy="77.6" r="1.55"/><circle cx="430.5" cy="77.0" r="1.55"/><circle cx="431.5" cy="76.4" r="1.55"/><circle cx="436.3" cy="73.5" r="1.55"/><circle cx="437.2" cy="73.0" r="1.55"/><circle cx="438.1" cy="72.4" r="1.55"/><circle cx="439.0" cy="71.9" r="1.55"/><circle cx="439.9" cy="71.4" r="1.55"/><circle cx="440.8" cy="70.8" r="1.55"/><circle cx="441.7" cy="70.3" r="1.55"/><circle cx="389.6" cy="118.3" r="1.55"/><circle cx="390.6" cy="117.7" r="1.55"/><circle cx="391.5" cy="117.1" r="1.55"/><circle cx="392.5" cy="116.5" r="1.55"/><circle cx="393.4" cy="115.9" r="1.55"/><circle cx="394.4" cy="115.4" r="1.55"/><circle cx="395.4" cy="114.8" r="1.55"/><circle cx="396.3" cy="114.2" r="1.55"/><circle cx="397.3" cy="113.6" r="1.55"/><circle cx="398.2" cy="113.0" r="1.55"/><circle cx="399.2" cy="112.5" r="1.55"/><circle cx="400.2" cy="111.9" r="1.55"/><circle cx="401.1" cy="111.3" r="1.55"/><circle cx="402.1" cy="110.7" r="1.55"/><circle cx="403.0" cy="110.1" r="1.55"/><circle cx="404.0" cy="109.6" r="1.55"/><circle cx="406.0" cy="108.4" r="1.55"/><circle cx="406.9" cy="107.8" r="1.55"/><circle cx="407.9" cy="107.2" r="1.55"/><circle cx="408.9" cy="106.6" r="1.55"/><circle cx="409.8" cy="106.1" r="1.55"/><circle cx="410.8" cy="105.5" r="1.55"/><circle cx="411.7" cy="104.9" r="1.55"/><circle cx="412.6" cy="104.4" r="1.55"/><circle cx="413.6" cy="103.8" r="1.55"/><circle cx="414.6" cy="103.2" r="1.55"/><circle cx="415.5" cy="102.6" r="1.55"/><circle cx="416.4" cy="102.1" r="1.55"/><circle cx="417.4" cy="101.5" r="1.55"/><circle cx="418.3" cy="100.9" r="1.55"/><circle cx="419.3" cy="100.3" r="1.55"/><circle cx="420.2" cy="99.8" r="1.55"/><circle cx="421.2" cy="99.2" r="1.55"/><circle cx="423.8" cy="97.6" r="1.55"/><circle cx="424.6" cy="97.1" r="1.55"/><circle cx="425.5" cy="96.6" r="1.55"/><circle cx="426.3" cy="96.1" r="1.55"/><circle cx="428.0" cy="95.1" r="1.55"/><circle cx="428.9" cy="94.5" r="1.55"/><circle cx="429.9" cy="94.0" r="1.55"/><circle cx="430.9" cy="93.4" r="1.55"/><circle cx="431.8" cy="92.8" r="1.55"/><circle cx="432.8" cy="92.2" r="1.55"/><circle cx="433.7" cy="91.7" r="1.55"/><circle cx="434.6" cy="91.1" r="1.55"/><circle cx="435.6" cy="90.5" r="1.55"/><circle cx="436.6" cy="89.9" r="1.55"/><circle cx="437.5" cy="89.4" r="1.55"/><circle cx="438.4" cy="88.8" r="1.55"/><circle cx="439.4" cy="88.2" r="1.55"/><circle cx="440.4" cy="87.6" r="1.55"/><circle cx="441.3" cy="87.1" r="1.55"/><circle cx="442.2" cy="86.5" r="1.55"/><circle cx="443.2" cy="85.9" r="1.55"/><circle cx="444.1" cy="85.4" r="1.55"/><circle cx="445.1" cy="84.8" r="1.55"/><circle cx="446.1" cy="84.2" r="1.55"/><circle cx="447.0" cy="83.6" r="1.55"/><circle cx="409.3" cy="123.4" r="1.55"/><circle cx="410.2" cy="122.8" r="1.55"/><circle cx="411.2" cy="122.3" r="1.55"/><circle cx="412.1" cy="121.7" r="1.55"/><circle cx="413.1" cy="121.1" r="1.55"/><circle cx="414.0" cy="120.6" r="1.55"/><circle cx="414.9" cy="120.0" r="1.55"/><circle cx="415.9" cy="119.5" r="1.55"/><circle cx="416.8" cy="118.9" r="1.55"/><circle cx="417.8" cy="118.3" r="1.55"/><circle cx="418.7" cy="117.8" r="1.55"/><circle cx="419.6" cy="117.2" r="1.55"/><circle cx="420.6" cy="116.6" r="1.55"/><circle cx="421.5" cy="116.1" r="1.55"/><circle cx="422.5" cy="115.5" r="1.55"/><circle cx="423.4" cy="114.9" r="1.55"/><circle cx="424.3" cy="114.4" r="1.55"/><circle cx="425.3" cy="113.8" r="1.55"/><circle cx="426.2" cy="113.2" r="1.55"/><circle cx="427.2" cy="112.7" r="1.55"/><circle cx="428.1" cy="112.1" r="1.55"/><circle cx="429.0" cy="111.6" r="1.55"/><circle cx="430.0" cy="111.0" r="1.55"/><circle cx="430.9" cy="110.4" r="1.55"/><circle cx="431.9" cy="109.9" r="1.55"/><circle cx="432.8" cy="109.3" r="1.55"/><circle cx="433.7" cy="108.7" r="1.55"/><circle cx="434.7" cy="108.2" r="1.55"/><circle cx="435.6" cy="107.6" r="1.55"/><circle cx="436.6" cy="107.0" r="1.55"/><circle cx="437.5" cy="106.5" r="1.55"/><circle cx="438.4" cy="105.9" r="1.55"/><circle cx="439.4" cy="105.4" r="1.55"/><circle cx="440.3" cy="104.8" r="1.55"/><circle cx="441.3" cy="104.2" r="1.55"/><circle cx="442.2" cy="103.7" r="1.55"/><circle cx="443.1" cy="103.1" r="1.55"/><circle cx="444.1" cy="102.5" r="1.55"/><circle cx="445.0" cy="102.0" r="1.55"/><circle cx="446.0" cy="101.4" r="1.55"/><circle cx="446.9" cy="100.8" r="1.55"/><circle cx="447.8" cy="100.3" r="1.55"/><circle cx="448.8" cy="99.7" r="1.55"/><circle cx="449.7" cy="99.1" r="1.55"/><circle cx="450.7" cy="98.6" r="1.55"/><circle cx="451.6" cy="98.0" r="1.55"/><circle cx="452.5" cy="97.5" r="1.55"/><circle cx="453.5" cy="96.9" r="1.55"/><circle cx="454.4" cy="96.3" r="1.55"/><circle cx="455.4" cy="95.8" r="1.55"/><circle cx="456.3" cy="95.2" r="1.55"/><circle cx="413.5" cy="137.6" r="1.55"/><circle cx="414.4" cy="137.0" r="1.55"/><circle cx="415.4" cy="136.5" r="1.55"/><circle cx="416.3" cy="135.9" r="1.55"/><circle cx="417.2" cy="135.4" r="1.55"/><circle cx="418.2" cy="134.8" r="1.55"/><circle cx="419.1" cy="134.3" r="1.55"/><circle cx="420.0" cy="133.7" r="1.55"/><circle cx="421.0" cy="133.1" r="1.55"/><circle cx="421.9" cy="132.6" r="1.55"/><circle cx="422.8" cy="132.0" r="1.55"/><circle cx="423.8" cy="131.5" r="1.55"/><circle cx="424.7" cy="130.9" r="1.55"/><circle cx="425.7" cy="130.3" r="1.55"/><circle cx="426.6" cy="129.8" r="1.55"/><circle cx="427.5" cy="129.2" r="1.55"/><circle cx="428.5" cy="128.7" r="1.55"/><circle cx="429.4" cy="128.1" r="1.55"/><circle cx="430.3" cy="127.6" r="1.55"/><circle cx="431.3" cy="127.0" r="1.55"/><circle cx="432.2" cy="126.4" r="1.55"/><circle cx="433.1" cy="125.9" r="1.55"/><circle cx="434.1" cy="125.3" r="1.55"/><circle cx="435.0" cy="124.8" r="1.55"/><circle cx="435.9" cy="124.2" r="1.55"/><circle cx="436.9" cy="123.6" r="1.55"/><circle cx="437.8" cy="123.1" r="1.55"/><circle cx="438.7" cy="122.5" r="1.55"/><circle cx="439.7" cy="122.0" r="1.55"/><circle cx="440.6" cy="121.4" r="1.55"/><circle cx="441.5" cy="120.9" r="1.55"/><circle cx="442.5" cy="120.3" r="1.55"/><circle cx="443.4" cy="119.7" r="1.55"/><circle cx="444.4" cy="119.2" r="1.55"/><circle cx="445.3" cy="118.6" r="1.55"/><circle cx="446.2" cy="118.1" r="1.55"/><circle cx="447.2" cy="117.5" r="1.55"/><circle cx="448.1" cy="116.9" r="1.55"/><circle cx="449.0" cy="116.4" r="1.55"/><circle cx="450.0" cy="115.8" r="1.55"/><circle cx="450.9" cy="115.3" r="1.55"/><circle cx="451.8" cy="114.7" r="1.55"/><circle cx="452.8" cy="114.2" r="1.55"/><circle cx="453.7" cy="113.6" r="1.55"/><circle cx="415.2" cy="152.6" r="1.55"/><circle cx="416.2" cy="152.0" r="1.55"/><circle cx="417.1" cy="151.5" r="1.55"/><circle cx="418.1" cy="150.9" r="1.55"/><circle cx="419.0" cy="150.4" r="1.55"/><circle cx="420.0" cy="149.8" r="1.55"/><circle cx="420.9" cy="149.2" r="1.55"/><circle cx="421.9" cy="148.7" r="1.55"/><circle cx="422.8" cy="148.1" r="1.55"/><circle cx="423.8" cy="147.6" r="1.55"/><circle cx="424.7" cy="147.0" r="1.55"/><circle cx="425.7" cy="146.4" r="1.55"/><circle cx="426.6" cy="145.9" r="1.55"/><circle cx="427.6" cy="145.3" r="1.55"/><circle cx="428.5" cy="144.8" r="1.55"/><circle cx="429.5" cy="144.2" r="1.55"/><circle cx="430.4" cy="143.6" r="1.55"/><circle cx="431.4" cy="143.1" r="1.55"/><circle cx="432.3" cy="142.5" r="1.55"/><circle cx="433.3" cy="141.9" r="1.55"/><circle cx="434.2" cy="141.4" r="1.55"/><circle cx="435.2" cy="140.8" r="1.55"/><circle cx="436.1" cy="140.3" r="1.55"/><circle cx="437.1" cy="139.7" r="1.55"/><circle cx="438.1" cy="139.1" r="1.55"/><circle cx="439.0" cy="138.6" r="1.55"/><circle cx="440.0" cy="138.0" r="1.55"/><circle cx="440.9" cy="137.5" r="1.55"/><circle cx="441.9" cy="136.9" r="1.55"/><circle cx="442.8" cy="136.3" r="1.55"/><circle cx="443.8" cy="135.8" r="1.55"/><circle cx="444.7" cy="135.2" r="1.55"/><circle cx="445.7" cy="134.7" r="1.55"/><circle cx="446.6" cy="134.1" r="1.55"/><circle cx="447.6" cy="133.5" r="1.55"/><circle cx="448.5" cy="133.0" r="1.55"/><circle cx="449.5" cy="132.4" r="1.55"/><circle cx="450.4" cy="131.9" r="1.55"/><circle cx="451.4" cy="131.3" r="1.55"/><circle cx="452.3" cy="130.7" r="1.55"/><circle cx="453.3" cy="130.2" r="1.55"/><circle cx="454.2" cy="129.6" r="1.55"/><circle cx="455.2" cy="129.1" r="1.55"/><circle cx="456.1" cy="128.5" r="1.55"/><circle cx="457.1" cy="127.9" r="1.55"/></g>
<line x1="305.5" y1="116.5" x2="493.5" y2="116.5" stroke="#333" stroke-width="1.0"/>
<line x1="496.5" y1="116.5" x2="536.0" y2="116.5" stroke="#333" stroke-width="1.0"/>
<rect x="305.5" y="11.5" width="188.0" height="155.0" class="sp"/>
<rect x="496.5" y="11.5" width="37.0" height="155.0" class="sp"/>
<text x="308.6" y="178.3" class="tk" text-anchor="middle">3.0</text>
<text x="336.4" y="178.3" class="tk" text-anchor="middle">3.5</text>
<text x="364.3" y="178.3" class="tk" text-anchor="middle">4.0</text>
<text x="392.2" y="178.3" class="tk" text-anchor="middle">4.5</text>
<text x="420.2" y="178.3" class="tk" text-anchor="middle">5.0</text>
<text x="448.1" y="178.3" class="tk" text-anchor="middle">5.5</text>
<text x="475.5" y="178.3" class="tk" text-anchor="middle">6.0</text>
<text x="497" y="178.3" class="tk" text-anchor="middle">0</text>
<text x="517" y="178.3" class="tk" text-anchor="middle">100</text>
<text x="298.8" y="18.85" class="tk" text-anchor="end">3</text>
<line x1="533.5" y1="16.5" x2="536.0" y2="16.5" stroke="#333" stroke-width="0.7"/>
<text x="539.8" y="18.85" class="tk">3</text>
<text x="298.8" y="52.050000000000004" class="tk" text-anchor="end">2</text>
<line x1="533.5" y1="49.7" x2="536.0" y2="49.7" stroke="#333" stroke-width="0.7"/>
<text x="539.8" y="52.050000000000004" class="tk">2</text>
<text x="298.8" y="85.14999999999999" class="tk" text-anchor="end">1</text>
<line x1="533.5" y1="82.8" x2="536.0" y2="82.8" stroke="#333" stroke-width="0.7"/>
<text x="539.8" y="85.14999999999999" class="tk">1</text>
<text x="298.8" y="118.55" class="tk" text-anchor="end">0</text>
<line x1="533.5" y1="116.2" x2="536.0" y2="116.2" stroke="#333" stroke-width="0.7"/>
<text x="539.8" y="118.55" class="tk">0</text>
<text x="298.8" y="151.75" class="tk" text-anchor="end">−1</text>
<line x1="533.5" y1="149.4" x2="536.0" y2="149.4" stroke="#333" stroke-width="0.7"/>
<text x="539.8" y="151.75" class="tk">−1</text>
<text x="399.5" y="185.3" class="lb" text-anchor="middle">Predicted Value</text>
<text x="515.0" y="185.3" class="lb" text-anchor="middle">Distribution</text>
<text transform="translate(289.7,89.8) rotate(-90)" class="lb" text-anchor="middle">Residuals</text>
<text x="399.5" y="8.1" class="lb" text-anchor="middle">(b) Residuals for RF model</text>
<rect x="307.8" y="13.7" width="64.6" height="18.6" rx="1" fill="#fff" fill-opacity="0.8" stroke="#d0d0d0" stroke-width="0.6"/>
<rect x="310.40000000000003" y="16.9" width="11.3" height="4" fill="#4a70b4"/>
<rect x="310.40000000000003" y="25.0" width="11.3" height="4" fill="#50a965"/>
<text x="326.0" y="21.0" class="lg">Train <tspan class="mi">R</tspan><tspan class="ms" dy="-2.2">2</tspan><tspan class="mr" dy="2.2"> = 0.867</tspan></text>
<text x="326.0" y="29.1" class="lg">Test <tspan class="mi">R</tspan><tspan class="ms" dy="-2.2">2</tspan><tspan class="mr" dy="2.2"> = 0.108</tspan></text>
<line x1="30.5" y1="212.5" x2="30.5" y2="367.5" class="gr"/>
<line x1="60.5" y1="212.5" x2="60.5" y2="367.5" class="gr"/>
<line x1="91.5" y1="212.5" x2="91.5" y2="367.5" class="gr"/>
<line x1="121.5" y1="212.5" x2="121.5" y2="367.5" class="gr"/>
<line x1="152.5" y1="212.5" x2="152.5" y2="367.5" class="gr"/>
<line x1="182.5" y1="212.5" x2="182.5" y2="367.5" class="gr"/>
<line x1="25.5" y1="219.5" x2="213.5" y2="219.5" class="gr"/>
<line x1="216.5" y1="219.5" x2="253.5" y2="219.5" class="gr"/>
<line x1="25.5" y1="250.5" x2="213.5" y2="250.5" class="gr"/>
<line x1="216.5" y1="250.5" x2="253.5" y2="250.5" class="gr"/>
<line x1="25.5" y1="281.5" x2="213.5" y2="281.5" class="gr"/>
<line x1="216.5" y1="281.5" x2="253.5" y2="281.5" class="gr"/>
<line x1="25.5" y1="312.5" x2="213.5" y2="312.5" class="gr"/>
<line x1="216.5" y1="312.5" x2="253.5" y2="312.5" class="gr"/>
<line x1="25.5" y1="344.5" x2="213.5" y2="344.5" class="gr"/>
<line x1="216.5" y1="344.5" x2="253.5" y2="344.5" class="gr"/>
<rect x="216.9" y="283.13" width="2.79" height="1.6" fill="#4a70b4"/>
<rect x="216.9" y="287.22" width="3.90" height="1.6" fill="#4a70b4"/>
<rect x="216.9" y="290.94" width="3.35" height="1.6" fill="#4a70b4"/>
<rect x="216.9" y="298.00" width="11.71" height="1.6" fill="#4a70b4"/>
<rect x="216.9" y="300.23" width="13.57" height="1.6" fill="#4a70b4"/>
<rect x="216.9" y="302.28" width="16.91" height="1.6" fill="#4a70b4"/>
<rect x="216.9" y="304.51" width="13.94" height="1.6" fill="#4a70b4"/>
<rect x="216.9" y="306.55" width="13.20" height="1.6" fill="#4a70b4"/>
<rect x="216.9" y="308.60" width="9.85" height="1.6" fill="#4a70b4"/>
<rect x="216.9" y="310.83" width="17.66" height="1.6" fill="#4a70b4"/>
<rect x="216.9" y="312.13" width="34.94" height="1.6" fill="#4a70b4"/>
<rect x="216.9" y="314.92" width="32.16" height="1.6" fill="#4a70b4"/>
<rect x="216.9" y="316.96" width="27.51" height="1.6" fill="#4a70b4"/>
<rect x="216.9" y="319.38" width="19.14" height="1.6" fill="#4a70b4"/>
<rect x="216.9" y="321.42" width="16.36" height="1.6" fill="#4a70b4"/>
<rect x="216.9" y="323.65" width="10.78" height="1.6" fill="#4a70b4"/>
<rect x="216.9" y="325.88" width="15.06" height="1.6" fill="#4a70b4"/>
<rect x="216.9" y="327.93" width="15.06" height="1.6" fill="#4a70b4"/>
<rect x="216.9" y="330.16" width="12.64" height="1.6" fill="#4a70b4"/>
<rect x="216.9" y="332.39" width="7.62" height="1.6" fill="#4a70b4"/>
<rect x="216.9" y="267.51" width="0.56" height="2.0" fill="#50a965"/>
<rect x="216.9" y="270.29" width="0.74" height="2.0" fill="#50a965"/>
<rect x="216.9" y="273.64" width="0.93" height="2.0" fill="#50a965"/>
<rect x="216.9" y="276.80" width="1.12" height="2.0" fill="#50a965"/>
<rect x="216.9" y="279.59" width="1.12" height="2.0" fill="#50a965"/>
<rect x="216.9" y="282.38" width="1.30" height="2.0" fill="#50a965"/>
<rect x="216.9" y="284.79" width="1.49" height="2.0" fill="#50a965"/>
<rect x="216.9" y="287.58" width="2.04" height="2.0" fill="#50a965"/>
<rect x="216.9" y="290.37" width="2.42" height="2.0" fill="#50a965"/>
<rect x="216.9" y="292.97" width="3.35" height="2.0" fill="#50a965"/>
<rect x="216.9" y="295.94" width="6.51" height="2.0" fill="#50a965"/>
<rect x="216.9" y="298.73" width="7.06" height="2.0" fill="#50a965"/>
<rect x="216.9" y="301.52" width="7.62" height="2.0" fill="#50a965"/>
<rect x="216.9" y="304.31" width="5.20" height="2.0" fill="#50a965"/>
<rect x="216.9" y="307.10" width="5.20" height="2.0" fill="#50a965"/>
<rect x="216.9" y="309.70" width="6.51" height="2.0" fill="#50a965"/>
<rect x="216.9" y="312.12" width="11.71" height="2.0" fill="#50a965"/>
<rect x="216.9" y="314.53" width="13.94" height="2.0" fill="#50a965"/>
<rect x="216.9" y="316.76" width="13.20" height="2.0" fill="#50a965"/>
<rect x="216.9" y="319.18" width="12.64" height="2.0" fill="#50a965"/>
<rect x="216.9" y="321.59" width="8.36" height="2.0" fill="#50a965"/>
<rect x="216.9" y="324.20" width="5.76" height="2.0" fill="#50a965"/>
<rect x="216.9" y="326.99" width="6.13" height="2.0" fill="#50a965"/>
<rect x="216.9" y="329.77" width="6.51" height="2.0" fill="#50a965"/>
<rect x="216.9" y="332.56" width="5.20" height="2.0" fill="#50a965"/>
<rect x="216.9" y="335.35" width="2.04" height="2.0" fill="#50a965"/>
<rect x="216.9" y="338.14" width="1.49" height="2.0" fill="#50a965"/>
<rect x="216.9" y="340.93" width="1.12" height="2.0" fill="#50a965"/>
<rect x="216.9" y="343.71" width="0.74" height="2.0" fill="#50a965"/>
<rect x="216.9" y="352.64" width="0.56" height="2.0" fill="#50a965"/>
<g fill="#4a70b4" fill-opacity="0.8" stroke="#4a70b4" stroke-opacity="0.9" stroke-width="0.6"><circle cx="118.1" cy="252.5" r="1.55"/><circle cx="102.4" cy="260.4" r="1.55"/><circle cx="91.7" cy="265.8" r="1.55"/><circle cx="93.7" cy="264.6" r="1.55"/><circle cx="53.2" cy="269.9" r="1.55"/><circle cx="79.7" cy="271.8" r="1.55"/><circle cx="82.4" cy="270.5" r="1.55"/><circle cx="112.8" cy="270.5" r="1.55"/><circle cx="71.0" cy="276.3" r="1.55"/><circle cx="33.9" cy="279.7" r="1.55"/><circle cx="99.5" cy="277.3" r="1.55"/><circle cx="90.1" cy="281.9" r="1.55"/><circle cx="53.5" cy="285.5" r="1.55"/><circle cx="118.1" cy="282.9" r="1.55"/><circle cx="105.3" cy="289.8" r="1.55"/><circle cx="137.5" cy="242.4" r="1.55"/><circle cx="133.5" cy="244.5" r="1.55"/><circle cx="129.6" cy="246.5" r="1.55"/><circle cx="125.8" cy="248.2" r="1.55"/><circle cx="123.3" cy="249.6" r="1.55"/><circle cx="136.6" cy="258.1" r="1.55"/><circle cx="161.7" cy="261.6" r="1.55"/><circle cx="163.8" cy="260.4" r="1.55"/><circle cx="155.7" cy="264.1" r="1.55"/><circle cx="140.4" cy="271.8" r="1.55"/><circle cx="127.9" cy="278.3" r="1.55"/><circle cx="119.0" cy="282.6" r="1.55"/><circle cx="40.0" cy="292.2" r="1.55"/><circle cx="85.2" cy="300.4" r="1.55"/><circle cx="101.4" cy="292.1" r="1.55"/><circle cx="105.3" cy="290.3" r="1.55"/><circle cx="111.0" cy="302.8" r="1.55"/><circle cx="113.9" cy="301.6" r="1.55"/><circle cx="115.6" cy="300.6" r="1.55"/><circle cx="118.1" cy="299.6" r="1.55"/><circle cx="118.1" cy="315.1" r="1.55"/><circle cx="131.0" cy="323.7" r="1.55"/><circle cx="138.1" cy="335.6" r="1.55"/><circle cx="193.3" cy="306.6" r="1.55"/><circle cx="143.4" cy="348.6" r="1.55"/><circle cx="204.5" cy="317.0" r="1.55"/><circle cx="180.5" cy="345.0" r="1.55"/><circle cx="118.5" cy="298.9" r="1.55"/><circle cx="119.4" cy="298.5" r="1.55"/><circle cx="120.2" cy="298.0" r="1.55"/><circle cx="121.1" cy="297.6" r="1.55"/><circle cx="122.0" cy="297.1" r="1.55"/><circle cx="125.0" cy="295.6" r="1.55"/><circle cx="126.0" cy="295.1" r="1.55"/><circle cx="127.0" cy="294.6" r="1.55"/><circle cx="128.0" cy="294.1" r="1.55"/><circle cx="133.0" cy="291.5" r="1.55"/><circle cx="134.0" cy="291.0" r="1.55"/><circle cx="135.0" cy="290.5" r="1.55"/><circle cx="136.0" cy="290.0" r="1.55"/><circle cx="137.0" cy="289.4" r="1.55"/><circle cx="141.0" cy="287.4" r="1.55"/><circle cx="142.0" cy="286.9" r="1.55"/><circle cx="143.0" cy="286.4" r="1.55"/><circle cx="144.0" cy="285.8" r="1.55"/><circle cx="146.0" cy="284.8" r="1.55"/><circle cx="147.0" cy="284.3" r="1.55"/><circle cx="148.0" cy="283.8" r="1.55"/><circle cx="149.0" cy="283.3" r="1.55"/><circle cx="150.0" cy="282.8" r="1.55"/><circle cx="118.0" cy="314.8" r="1.55"/><circle cx="118.8" cy="314.4" r="1.55"/><circle cx="119.7" cy="314.0" r="1.55"/><circle cx="120.5" cy="313.5" r="1.55"/><circle cx="125.5" cy="310.9" r="1.55"/><circle cx="126.3" cy="310.5" r="1.55"/><circle cx="127.2" cy="310.1" r="1.55"/><circle cx="128.0" cy="309.7" r="1.55"/><circle cx="134.0" cy="306.6" r="1.55"/><circle cx="135.0" cy="306.0" r="1.55"/><circle cx="136.0" cy="305.5" r="1.55"/><circle cx="137.0" cy="305.0" r="1.55"/><circle cx="142.0" cy="302.4" r="1.55"/><circle cx="142.8" cy="302.0" r="1.55"/><circle cx="143.7" cy="301.6" r="1.55"/><circle cx="144.5" cy="301.1" r="1.55"/><circle cx="148.0" cy="299.3" r="1.55"/><circle cx="149.0" cy="298.8" r="1.55"/><circle cx="150.0" cy="298.3" r="1.55"/><circle cx="168.5" cy="288.7" r="1.55"/><circle cx="169.4" cy="288.3" r="1.55"/><circle cx="170.3" cy="287.8" r="1.55"/><circle cx="190.8" cy="323.9" r="1.55"/><circle cx="191.9" cy="323.4" r="1.55"/><circle cx="193.0" cy="322.8" r="1.55"/><circle cx="195.5" cy="321.5" r="1.55"/><circle cx="196.3" cy="321.1" r="1.55"/><circle cx="197.2" cy="320.6" r="1.55"/><circle cx="198.0" cy="320.2" r="1.55"/><circle cx="199.5" cy="319.4" r="1.55"/><circle cx="200.7" cy="318.8" r="1.55"/><circle cx="201.9" cy="318.2" r="1.55"/></g>
<g fill="#50a965" fill-opacity="0.8" stroke="#50a965" stroke-opacity="0.9" stroke-width="0.6"><circle cx="115.6" cy="253.5" r="1.55"/><circle cx="96.8" cy="278.8" r="1.55"/><circle cx="182.7" cy="219.2" r="1.55"/><circle cx="160.5" cy="230.3" r="1.55"/><circle cx="171.5" cy="240.5" r="1.55"/><circle cx="148.9" cy="252.0" r="1.55"/><circle cx="175.1" cy="254.2" r="1.55"/><circle cx="138.7" cy="257.3" r="1.55"/><circle cx="167.7" cy="258.1" r="1.55"/><circle cx="157.5" cy="263.3" r="1.55"/><circle cx="150.3" cy="266.9" r="1.55"/><circle cx="136.9" cy="273.5" r="1.55"/><circle cx="135.7" cy="274.4" r="1.55"/><circle cx="131.8" cy="276.4" r="1.55"/><circle cx="186.5" cy="279.5" r="1.55"/><circle cx="190.4" cy="277.6" r="1.55"/><circle cx="195.9" cy="289.8" r="1.55"/><circle cx="108.7" cy="319.6" r="1.55"/><circle cx="118.1" cy="330.3" r="1.55"/><circle cx="118.7" cy="360.6" r="1.55"/><circle cx="127.5" cy="325.4" r="1.55"/><circle cx="196.3" cy="290.5" r="1.55"/><circle cx="121.6" cy="344.3" r="1.55"/><circle cx="126.7" cy="341.3" r="1.55"/><circle cx="128.4" cy="340.4" r="1.55"/><circle cx="131.8" cy="339.2" r="1.55"/><circle cx="135.7" cy="336.7" r="1.55"/><circle cx="137.1" cy="336.0" r="1.55"/><circle cx="138.8" cy="335.1" r="1.55"/><circle cx="198.5" cy="304.9" r="1.55"/><circle cx="131.8" cy="354.6" r="1.55"/><circle cx="133.0" cy="353.9" r="1.55"/><circle cx="134.4" cy="353.2" r="1.55"/><circle cx="135.7" cy="352.6" r="1.55"/><circle cx="122.0" cy="297.1" r="1.55"/><circle cx="123.0" cy="296.6" r="1.55"/><circle cx="124.0" cy="296.1" r="1.55"/><circle cx="125.0" cy="295.6" r="1.55"/><circle cx="128.0" cy="294.1" r="1.55"/><circle cx="129.0" cy="293.6" r="1.55"/><circle cx="130.0" cy="293.0" r="1.55"/><circle cx="131.0" cy="292.5" r="1.55"/><circle cx="132.0" cy="292.0" r="1.55"/><circle cx="133.0" cy="291.5" r="1.55"/><circle cx="137.0" cy="289.4" r="1.55"/><circle cx="138.0" cy="288.9" r="1.55"/><circle cx="139.0" cy="288.4" r="1.55"/><circle cx="140.0" cy="287.9" r="1.55"/><circle cx="141.0" cy="287.4" r="1.55"/><circle cx="144.0" cy="285.8" r="1.55"/><circle cx="145.0" cy="285.3" r="1.55"/><circle cx="146.0" cy="284.8" r="1.55"/><circle cx="152.3" cy="281.6" r="1.55"/><circle cx="153.3" cy="281.1" r="1.55"/><circle cx="154.3" cy="280.6" r="1.55"/><circle cx="155.2" cy="280.1" r="1.55"/><circle cx="156.2" cy="279.6" r="1.55"/><circle cx="157.2" cy="279.1" r="1.55"/><circle cx="158.2" cy="278.6" r="1.55"/><circle cx="159.2" cy="278.1" r="1.55"/><circle cx="160.1" cy="277.6" r="1.55"/><circle cx="161.1" cy="277.1" r="1.55"/><circle cx="162.1" cy="276.6" r="1.55"/><circle cx="163.1" cy="276.0" r="1.55"/><circle cx="164.0" cy="275.5" r="1.55"/><circle cx="165.0" cy="275.0" r="1.55"/><circle cx="166.0" cy="274.5" r="1.55"/><circle cx="168.6" cy="273.2" r="1.55"/><circle cx="169.6" cy="272.7" r="1.55"/><circle cx="170.6" cy="272.2" r="1.55"/><circle cx="171.6" cy="271.6" r="1.55"/><circle cx="172.6" cy="271.1" r="1.55"/><circle cx="173.6" cy="270.6" r="1.55"/><circle cx="174.7" cy="270.1" r="1.55"/><circle cx="175.7" cy="269.6" r="1.55"/><circle cx="176.7" cy="269.1" r="1.55"/><circle cx="177.7" cy="268.5" r="1.55"/><circle cx="178.7" cy="268.0" r="1.55"/><circle cx="179.7" cy="267.5" r="1.55"/><circle cx="120.5" cy="313.5" r="1.55"/><circle cx="121.5" cy="313.0" r="1.55"/><circle cx="122.5" cy="312.5" r="1.55"/><circle cx="123.5" cy="312.0" r="1.55"/><circle cx="124.5" cy="311.5" r="1.55"/><circle cx="125.5" cy="310.9" r="1.55"/><circle cx="128.0" cy="309.7" r="1.55"/><circle cx="129.0" cy="309.1" r="1.55"/><circle cx="130.0" cy="308.6" r="1.55"/><circle cx="131.0" cy="308.1" r="1.55"/><circle cx="132.0" cy="307.6" r="1.55"/><circle cx="133.0" cy="307.1" r="1.55"/><circle cx="134.0" cy="306.6" r="1.55"/><circle cx="137.0" cy="305.0" r="1.55"/><circle cx="138.0" cy="304.5" r="1.55"/><circle cx="139.0" cy="304.0" r="1.55"/><circle cx="140.0" cy="303.5" r="1.55"/><circle cx="141.0" cy="302.9" r="1.55"/><circle cx="142.0" cy="302.4" r="1.55"/><circle cx="144.5" cy="301.1" r="1.55"/><circle cx="145.4" cy="300.7" r="1.55"/><circle cx="146.2" cy="300.2" r="1.55"/><circle cx="147.1" cy="299.8" r="1.55"/><circle cx="148.0" cy="299.3" r="1.55"/><circle cx="150.0" cy="298.3" r="1.55"/><circle cx="151.0" cy="297.8" r="1.55"/><circle cx="151.9" cy="297.3" r="1.55"/><circle cx="152.9" cy="296.8" r="1.55"/><circle cx="153.9" cy="296.3" r="1.55"/><circle cx="154.9" cy="295.8" r="1.55"/><circle cx="155.8" cy="295.3" r="1.55"/><circle cx="156.8" cy="294.8" r="1.55"/><circle cx="157.8" cy="294.3" r="1.55"/><circle cx="158.8" cy="293.8" r="1.55"/><circle cx="159.7" cy="293.3" r="1.55"/><circle cx="160.7" cy="292.8" r="1.55"/><circle cx="161.7" cy="292.3" r="1.55"/><circle cx="162.7" cy="291.8" r="1.55"/><circle cx="163.6" cy="291.3" r="1.55"/><circle cx="164.6" cy="290.8" r="1.55"/><circle cx="165.6" cy="290.2" r="1.55"/><circle cx="166.6" cy="289.7" r="1.55"/><circle cx="167.5" cy="289.2" r="1.55"/><circle cx="168.5" cy="288.7" r="1.55"/><circle cx="170.3" cy="287.8" r="1.55"/><circle cx="171.3" cy="287.3" r="1.55"/><circle cx="172.3" cy="286.8" r="1.55"/><circle cx="173.3" cy="286.3" r="1.55"/><circle cx="174.2" cy="285.8" r="1.55"/><circle cx="175.2" cy="285.3" r="1.55"/><circle cx="176.2" cy="284.8" r="1.55"/><circle cx="177.2" cy="284.3" r="1.55"/><circle cx="178.2" cy="283.7" r="1.55"/><circle cx="179.2" cy="283.2" r="1.55"/><circle cx="180.1" cy="282.7" r="1.55"/><circle cx="181.1" cy="282.2" r="1.55"/><circle cx="182.1" cy="281.7" r="1.55"/><circle cx="183.1" cy="281.2" r="1.55"/><circle cx="133.5" cy="322.5" r="1.55"/><circle cx="134.5" cy="322.0" r="1.55"/><circle cx="135.5" cy="321.5" r="1.55"/><circle cx="136.4" cy="321.0" r="1.55"/><circle cx="137.4" cy="320.5" r="1.55"/><circle cx="138.4" cy="320.0" r="1.55"/><circle cx="139.4" cy="319.5" r="1.55"/><circle cx="140.4" cy="319.0" r="1.55"/><circle cx="141.3" cy="318.5" r="1.55"/><circle cx="142.3" cy="318.0" r="1.55"/><circle cx="143.3" cy="317.5" r="1.55"/><circle cx="144.3" cy="317.0" r="1.55"/><circle cx="145.2" cy="316.5" r="1.55"/><circle cx="146.2" cy="316.0" r="1.55"/><circle cx="147.2" cy="315.5" r="1.55"/><circle cx="148.2" cy="315.0" r="1.55"/><circle cx="149.2" cy="314.5" r="1.55"/><circle cx="150.1" cy="314.0" r="1.55"/><circle cx="151.1" cy="313.5" r="1.55"/><circle cx="152.1" cy="313.0" r="1.55"/><circle cx="153.1" cy="312.5" r="1.55"/><circle cx="154.1" cy="312.0" r="1.55"/><circle cx="155.0" cy="311.5" r="1.55"/><circle cx="156.0" cy="311.0" r="1.55"/><circle cx="157.0" cy="310.5" r="1.55"/><circle cx="158.0" cy="310.0" r="1.55"/><circle cx="159.0" cy="309.5" r="1.55"/><circle cx="159.9" cy="309.0" r="1.55"/><circle cx="160.9" cy="308.5" r="1.55"/><circle cx="161.9" cy="308.0" r="1.55"/><circle cx="162.9" cy="307.5" r="1.55"/><circle cx="163.8" cy="306.9" r="1.55"/><circle cx="164.8" cy="306.4" r="1.55"/><circle cx="165.8" cy="305.9" r="1.55"/><circle cx="166.8" cy="305.4" r="1.55"/><circle cx="167.8" cy="304.9" r="1.55"/><circle cx="168.7" cy="304.4" r="1.55"/><circle cx="169.7" cy="303.9" r="1.55"/><circle cx="170.7" cy="303.4" r="1.55"/><circle cx="171.7" cy="302.9" r="1.55"/><circle cx="172.7" cy="302.4" r="1.55"/><circle cx="173.6" cy="301.9" r="1.55"/><circle cx="174.6" cy="301.4" r="1.55"/><circle cx="175.6" cy="300.9" r="1.55"/><circle cx="176.6" cy="300.4" r="1.55"/><circle cx="177.6" cy="299.9" r="1.55"/><circle cx="178.5" cy="299.4" r="1.55"/><circle cx="179.5" cy="298.9" r="1.55"/><circle cx="180.5" cy="298.4" r="1.55"/><circle cx="181.5" cy="297.9" r="1.55"/><circle cx="182.5" cy="297.4" r="1.55"/><circle cx="183.4" cy="296.9" r="1.55"/><circle cx="184.4" cy="296.4" r="1.55"/><circle cx="185.4" cy="295.9" r="1.55"/><circle cx="186.4" cy="295.4" r="1.55"/><circle cx="187.3" cy="294.9" r="1.55"/><circle cx="188.3" cy="294.4" r="1.55"/><circle cx="189.3" cy="293.9" r="1.55"/><circle cx="190.3" cy="293.4" r="1.55"/><circle cx="191.3" cy="292.9" r="1.55"/><circle cx="192.2" cy="292.4" r="1.55"/><circle cx="193.2" cy="291.9" r="1.55"/><circle cx="194.2" cy="291.4" r="1.55"/><circle cx="140.4" cy="334.1" r="1.55"/><circle cx="141.4" cy="333.6" r="1.55"/><circle cx="142.3" cy="333.1" r="1.55"/><circle cx="143.3" cy="332.6" r="1.55"/><circle cx="144.3" cy="332.1" r="1.55"/><circle cx="145.2" cy="331.6" r="1.55"/><circle cx="146.2" cy="331.1" r="1.55"/><circle cx="147.2" cy="330.6" r="1.55"/><circle cx="148.2" cy="330.1" r="1.55"/><circle cx="149.1" cy="329.6" r="1.55"/><circle cx="150.1" cy="329.1" r="1.55"/><circle cx="151.1" cy="328.6" r="1.55"/><circle cx="152.0" cy="328.1" r="1.55"/><circle cx="153.0" cy="327.6" r="1.55"/><circle cx="154.0" cy="327.0" r="1.55"/><circle cx="154.9" cy="326.5" r="1.55"/><circle cx="155.9" cy="326.0" r="1.55"/><circle cx="156.9" cy="325.5" r="1.55"/><circle cx="157.8" cy="325.0" r="1.55"/><circle cx="158.8" cy="324.5" r="1.55"/><circle cx="159.8" cy="324.0" r="1.55"/><circle cx="160.8" cy="323.5" r="1.55"/><circle cx="161.7" cy="323.0" r="1.55"/><circle cx="162.7" cy="322.5" r="1.55"/><circle cx="163.7" cy="322.0" r="1.55"/><circle cx="164.6" cy="321.5" r="1.55"/><circle cx="165.6" cy="321.0" r="1.55"/><circle cx="166.6" cy="320.5" r="1.55"/><circle cx="167.5" cy="320.0" r="1.55"/><circle cx="168.5" cy="319.5" r="1.55"/><circle cx="169.5" cy="319.0" r="1.55"/><circle cx="170.4" cy="318.5" r="1.55"/><circle cx="171.4" cy="318.0" r="1.55"/><circle cx="172.4" cy="317.5" r="1.55"/><circle cx="173.4" cy="317.0" r="1.55"/><circle cx="174.3" cy="316.5" r="1.55"/><circle cx="175.3" cy="316.0" r="1.55"/><circle cx="176.3" cy="315.5" r="1.55"/><circle cx="177.2" cy="315.0" r="1.55"/><circle cx="178.2" cy="314.4" r="1.55"/><circle cx="179.2" cy="313.9" r="1.55"/><circle cx="180.1" cy="313.4" r="1.55"/><circle cx="181.1" cy="312.9" r="1.55"/><circle cx="182.1" cy="312.4" r="1.55"/><circle cx="183.0" cy="311.9" r="1.55"/><circle cx="184.0" cy="311.4" r="1.55"/><circle cx="185.0" cy="310.9" r="1.55"/><circle cx="186.0" cy="310.4" r="1.55"/><circle cx="186.9" cy="309.9" r="1.55"/><circle cx="187.9" cy="309.4" r="1.55"/><circle cx="188.9" cy="308.9" r="1.55"/><circle cx="189.8" cy="308.4" r="1.55"/><circle cx="190.8" cy="307.9" r="1.55"/><circle cx="146.3" cy="346.9" r="1.55"/><circle cx="147.3" cy="346.4" r="1.55"/><circle cx="148.2" cy="345.9" r="1.55"/><circle cx="149.2" cy="345.4" r="1.55"/><circle cx="150.2" cy="344.9" r="1.55"/><circle cx="151.1" cy="344.4" r="1.55"/><circle cx="152.1" cy="343.9" r="1.55"/><circle cx="153.1" cy="343.4" r="1.55"/><circle cx="154.0" cy="342.9" r="1.55"/><circle cx="155.0" cy="342.4" r="1.55"/><circle cx="156.0" cy="341.9" r="1.55"/><circle cx="156.9" cy="341.4" r="1.55"/><circle cx="157.9" cy="340.9" r="1.55"/><circle cx="158.9" cy="340.4" r="1.55"/><circle cx="159.8" cy="339.9" r="1.55"/><circle cx="160.8" cy="339.4" r="1.55"/><circle cx="161.8" cy="338.9" r="1.55"/><circle cx="162.7" cy="338.4" r="1.55"/><circle cx="163.7" cy="337.9" r="1.55"/><circle cx="164.7" cy="337.4" r="1.55"/><circle cx="165.6" cy="336.9" r="1.55"/><circle cx="166.6" cy="336.4" r="1.55"/><circle cx="167.6" cy="335.9" r="1.55"/><circle cx="168.6" cy="335.4" r="1.55"/><circle cx="169.5" cy="334.9" r="1.55"/><circle cx="170.5" cy="334.4" r="1.55"/><circle cx="171.5" cy="333.9" r="1.55"/><circle cx="172.4" cy="333.4" r="1.55"/><circle cx="173.4" cy="332.9" r="1.55"/><circle cx="174.4" cy="332.4" r="1.55"/><circle cx="175.3" cy="331.9" r="1.55"/><circle cx="176.3" cy="331.4" r="1.55"/><circle cx="177.3" cy="330.9" r="1.55"/><circle cx="178.2" cy="330.4" r="1.55"/><circle cx="179.2" cy="329.9" r="1.55"/><circle cx="180.2" cy="329.4" r="1.55"/><circle cx="181.1" cy="328.9" r="1.55"/><circle cx="182.1" cy="328.4" r="1.55"/><circle cx="183.1" cy="327.9" r="1.55"/><circle cx="184.0" cy="327.4" r="1.55"/><circle cx="185.0" cy="326.9" r="1.55"/><circle cx="186.0" cy="326.4" r="1.55"/><circle cx="186.9" cy="325.9" r="1.55"/><circle cx="187.9" cy="325.4" r="1.55"/><circle cx="188.9" cy="324.9" r="1.55"/><circle cx="189.8" cy="324.4" r="1.55"/><circle cx="190.8" cy="323.9" r="1.55"/><circle cx="193.0" cy="322.8" r="1.55"/><circle cx="193.8" cy="322.4" r="1.55"/><circle cx="194.7" cy="321.9" r="1.55"/><circle cx="195.5" cy="321.5" r="1.55"/><circle cx="198.0" cy="320.2" r="1.55"/><circle cx="198.8" cy="319.8" r="1.55"/><circle cx="199.5" cy="319.4" r="1.55"/></g>
<line x1="25.5" y1="312.8" x2="213.5" y2="312.8" stroke="#646464" stroke-width="1.6"/>
<line x1="216.5" y1="312.8" x2="256.0" y2="312.8" stroke="#646464" stroke-width="1.6"/>
<rect x="25.5" y="212.5" width="188.0" height="155.0" class="sp"/>
<rect x="216.5" y="212.5" width="37.0" height="155.0" class="sp"/>
<text x="30.5" y="379.3" class="tk" text-anchor="middle">3.0</text>
<text x="60.8" y="379.3" class="tk" text-anchor="middle">3.5</text>
<text x="91.1" y="379.3" class="tk" text-anchor="middle">4.0</text>
<text x="121.6" y="379.3" class="tk" text-anchor="middle">4.5</text>
<text x="152.3" y="379.3" class="tk" text-anchor="middle">5.0</text>
<text x="182.7" y="379.3" class="tk" text-anchor="middle">5.5</text>
<text x="216.8" y="379.3" class="tk" text-anchor="middle">0</text>
<text x="244.3" y="379.3" class="tk" text-anchor="middle">100</text>
<text x="18.8" y="221.54999999999998" class="tk" text-anchor="end">3</text>
<line x1="253.5" y1="219.2" x2="256.0" y2="219.2" stroke="#333" stroke-width="0.7"/>
<text x="259.8" y="221.54999999999998" class="tk">3</text>
<text x="18.8" y="252.54999999999998" class="tk" text-anchor="end">2</text>
<line x1="253.5" y1="250.2" x2="256.0" y2="250.2" stroke="#333" stroke-width="0.7"/>
<text x="259.8" y="252.54999999999998" class="tk">2</text>
<text x="18.8" y="283.65000000000003" class="tk" text-anchor="end">1</text>
<line x1="253.5" y1="281.3" x2="256.0" y2="281.3" stroke="#333" stroke-width="0.7"/>
<text x="259.8" y="283.65000000000003" class="tk">1</text>
<text x="18.8" y="315.15000000000003" class="tk" text-anchor="end">0</text>
<line x1="253.5" y1="312.8" x2="256.0" y2="312.8" stroke="#333" stroke-width="0.7"/>
<text x="259.8" y="315.15000000000003" class="tk">0</text>
<text x="18.8" y="346.45000000000005" class="tk" text-anchor="end">−1</text>
<line x1="253.5" y1="344.1" x2="256.0" y2="344.1" stroke="#333" stroke-width="0.7"/>
<text x="259.8" y="346.45000000000005" class="tk">−1</text>
<text x="119.5" y="386.3" class="lb" text-anchor="middle">Predicted Value</text>
<text x="235.0" y="386.3" class="lb" text-anchor="middle">Distribution</text>
<text transform="translate(9.7,290.8) rotate(-90)" class="lb" text-anchor="middle">Residuals</text>
<text x="119.5" y="209.1" class="lb" text-anchor="middle">(c) Residuals for GBoost model</text>
<rect x="27.8" y="214.7" width="64.6" height="18.6" rx="1" fill="#fff" fill-opacity="0.8" stroke="#d0d0d0" stroke-width="0.6"/>
<rect x="30.400000000000002" y="217.89999999999998" width="11.3" height="4" fill="#4a70b4"/>
<rect x="30.400000000000002" y="226.0" width="11.3" height="4" fill="#50a965"/>
<text x="46.0" y="222.0" class="lg">Train <tspan class="mi">R</tspan><tspan class="ms" dy="-2.2">2</tspan><tspan class="mr" dy="2.2"> = 0.483</tspan></text>
<text x="46.0" y="230.1" class="lg">Test <tspan class="mi">R</tspan><tspan class="ms" dy="-2.2">2</tspan><tspan class="mr" dy="2.2"> = 0.083</tspan></text>
<line x1="326.5" y1="212.5" x2="326.5" y2="367.5" class="gr"/>
<line x1="347.5" y1="212.5" x2="347.5" y2="367.5" class="gr"/>
<line x1="368.5" y1="212.5" x2="368.5" y2="367.5" class="gr"/>
<line x1="389.5" y1="212.5" x2="389.5" y2="367.5" class="gr"/>
<line x1="411.5" y1="212.5" x2="411.5" y2="367.5" class="gr"/>
<line x1="432.5" y1="212.5" x2="432.5" y2="367.5" class="gr"/>
<line x1="453.5" y1="212.5" x2="453.5" y2="367.5" class="gr"/>
<line x1="474.5" y1="212.5" x2="474.5" y2="367.5" class="gr"/>
<line x1="305.5" y1="218.5" x2="493.5" y2="218.5" class="gr"/>
<line x1="496.5" y1="218.5" x2="533.5" y2="218.5" class="gr"/>
<line x1="305.5" y1="247.5" x2="493.5" y2="247.5" class="gr"/>
<line x1="496.5" y1="247.5" x2="533.5" y2="247.5" class="gr"/>
<line x1="305.5" y1="276.5" x2="493.5" y2="276.5" class="gr"/>
<line x1="496.5" y1="276.5" x2="533.5" y2="276.5" class="gr"/>
<line x1="305.5" y1="305.5" x2="493.5" y2="305.5" class="gr"/>
<line x1="496.5" y1="305.5" x2="533.5" y2="305.5" class="gr"/>
<line x1="305.5" y1="334.5" x2="493.5" y2="334.5" class="gr"/>
<line x1="496.5" y1="334.5" x2="533.5" y2="334.5" class="gr"/>
<line x1="305.5" y1="363.5" x2="493.5" y2="363.5" class="gr"/>
<line x1="496.5" y1="363.5" x2="533.5" y2="363.5" class="gr"/>
<rect x="496.9" y="264.04" width="0.56" height="1.5" fill="#4a70b4"/>
<rect x="496.9" y="269.06" width="1.30" height="1.5" fill="#4a70b4"/>
<rect x="496.9" y="279.84" width="2.79" height="1.5" fill="#4a70b4"/>
<rect x="496.9" y="282.07" width="1.67" height="1.5" fill="#4a70b4"/>
<rect x="496.9" y="290.99" width="4.65" height="1.5" fill="#4a70b4"/>
<rect x="496.9" y="293.78" width="7.99" height="1.5" fill="#4a70b4"/>
<rect x="496.9" y="298.42" width="22.86" height="1.5" fill="#4a70b4"/>
<rect x="496.9" y="305.12" width="5.76" height="1.5" fill="#4a70b4"/>
<rect x="496.9" y="309.58" width="19.14" height="1.5" fill="#4a70b4"/>
<rect x="496.9" y="311.62" width="34.39" height="1.5" fill="#4a70b4"/>
<rect x="496.9" y="316.45" width="6.51" height="1.5" fill="#4a70b4"/>
<rect x="496.9" y="320.92" width="19.52" height="1.5" fill="#4a70b4"/>
<rect x="496.9" y="322.96" width="15.06" height="1.5" fill="#4a70b4"/>
<rect x="496.9" y="327.42" width="16.36" height="1.5" fill="#4a70b4"/>
<rect x="496.9" y="330.02" width="4.65" height="1.5" fill="#4a70b4"/>
<rect x="496.9" y="338.95" width="3.35" height="1.5" fill="#4a70b4"/>
<rect x="496.9" y="275.87" width="1.30" height="2.0" fill="#50a965"/>
<rect x="496.9" y="278.66" width="0.93" height="2.0" fill="#50a965"/>
<rect x="496.9" y="281.45" width="0.93" height="2.0" fill="#50a965"/>
<rect x="496.9" y="284.79" width="0.93" height="2.0" fill="#50a965"/>
<rect x="496.9" y="291.11" width="2.04" height="2.0" fill="#50a965"/>
<rect x="496.9" y="293.53" width="4.28" height="2.0" fill="#50a965"/>
<rect x="496.9" y="295.94" width="5.20" height="2.0" fill="#50a965"/>
<rect x="496.9" y="298.73" width="7.06" height="2.0" fill="#50a965"/>
<rect x="496.9" y="301.52" width="0.93" height="2.0" fill="#50a965"/>
<rect x="496.9" y="304.68" width="3.35" height="2.0" fill="#50a965"/>
<rect x="496.9" y="307.47" width="9.85" height="2.0" fill="#50a965"/>
<rect x="496.9" y="310.26" width="7.06" height="2.0" fill="#50a965"/>
<rect x="496.9" y="313.23" width="13.20" height="2.0" fill="#50a965"/>
<rect x="496.9" y="316.20" width="2.04" height="2.0" fill="#50a965"/>
<rect x="496.9" y="318.99" width="1.49" height="2.0" fill="#50a965"/>
<rect x="496.9" y="321.59" width="2.79" height="2.0" fill="#50a965"/>
<rect x="496.9" y="324.38" width="5.20" height="2.0" fill="#50a965"/>
<rect x="496.9" y="327.17" width="7.62" height="2.0" fill="#50a965"/>
<rect x="496.9" y="330.14" width="2.04" height="2.0" fill="#50a965"/>
<rect x="496.9" y="333.12" width="0.93" height="2.0" fill="#50a965"/>
<rect x="496.9" y="335.91" width="1.30" height="2.0" fill="#50a965"/>
<g fill="#4a70b4" fill-opacity="0.8" stroke="#4a70b4" stroke-opacity="0.9" stroke-width="0.6"><circle cx="338.0" cy="243.8" r="1.55"/><circle cx="389.9" cy="244.0" r="1.55"/><circle cx="319.4" cy="248.9" r="1.55"/><circle cx="364.1" cy="251.3" r="1.55"/><circle cx="346.0" cy="256.4" r="1.55"/><circle cx="338.0" cy="258.3" r="1.55"/><circle cx="324.0" cy="262.2" r="1.55"/><circle cx="314.2" cy="265.0" r="1.55"/><circle cx="345.8" cy="271.0" r="1.55"/><circle cx="338.0" cy="273.0" r="1.55"/><circle cx="314.2" cy="279.5" r="1.55"/><circle cx="343.8" cy="286.2" r="1.55"/><circle cx="389.9" cy="287.7" r="1.55"/><circle cx="378.5" cy="289.9" r="1.55"/><circle cx="407.2" cy="239.3" r="1.55"/><circle cx="416.4" cy="237.0" r="1.55"/><circle cx="460.4" cy="239.3" r="1.55"/><circle cx="411.8" cy="252.7" r="1.55"/><circle cx="450.3" cy="256.8" r="1.55"/><circle cx="455.4" cy="255.4" r="1.55"/><circle cx="471.6" cy="265.5" r="1.55"/><circle cx="411.8" cy="281.7" r="1.55"/><circle cx="465.5" cy="281.7" r="1.55"/><circle cx="378.5" cy="291.4" r="1.55"/><circle cx="343.8" cy="301.1" r="1.55"/><circle cx="346.0" cy="300.4" r="1.55"/><circle cx="364.1" cy="310.0" r="1.55"/><circle cx="343.8" cy="344.9" r="1.55"/><circle cx="378.5" cy="349.8" r="1.55"/><circle cx="426.3" cy="292.6" r="1.55"/><circle cx="480.7" cy="292.2" r="1.55"/><circle cx="414.9" cy="310.5" r="1.55"/><circle cx="429.8" cy="306.4" r="1.55"/><circle cx="432.7" cy="305.6" r="1.55"/><circle cx="429.8" cy="321.1" r="1.55"/><circle cx="465.5" cy="325.7" r="1.55"/><circle cx="419.5" cy="338.7" r="1.55"/><circle cx="429.4" cy="335.8" r="1.55"/><circle cx="471.6" cy="338.9" r="1.55"/><circle cx="314.2" cy="265.0" r="1.55"/><circle cx="345.8" cy="271.0" r="1.55"/><circle cx="338.0" cy="273.0" r="1.55"/><circle cx="314.2" cy="279.5" r="1.55"/><circle cx="343.8" cy="286.2" r="1.55"/><circle cx="389.9" cy="287.7" r="1.55"/><circle cx="378.5" cy="289.9" r="1.55"/><circle cx="471.6" cy="265.5" r="1.55"/><circle cx="411.8" cy="281.7" r="1.55"/><circle cx="465.5" cy="281.7" r="1.55"/><circle cx="378.5" cy="291.4" r="1.55"/><circle cx="343.8" cy="301.1" r="1.55"/><circle cx="346.0" cy="300.4" r="1.55"/><circle cx="364.1" cy="310.0" r="1.55"/><circle cx="343.8" cy="344.9" r="1.55"/><circle cx="378.5" cy="349.8" r="1.55"/><circle cx="426.3" cy="292.6" r="1.55"/><circle cx="480.7" cy="292.2" r="1.55"/><circle cx="414.9" cy="310.5" r="1.55"/><circle cx="429.8" cy="306.4" r="1.55"/><circle cx="432.7" cy="305.6" r="1.55"/><circle cx="429.8" cy="321.1" r="1.55"/><circle cx="465.5" cy="325.7" r="1.55"/><circle cx="419.5" cy="338.7" r="1.55"/><circle cx="429.4" cy="335.8" r="1.55"/><circle cx="471.6" cy="338.9" r="1.55"/></g>
<g fill="#50a965" fill-opacity="0.8" stroke="#50a965" stroke-opacity="0.9" stroke-width="0.6"><circle cx="343.8" cy="257.1" r="1.55"/><circle cx="319.4" cy="263.6" r="1.55"/><circle cx="346.0" cy="285.5" r="1.55"/><circle cx="480.7" cy="219.2" r="1.55"/><circle cx="446.0" cy="228.7" r="1.55"/><circle cx="414.7" cy="237.6" r="1.55"/><circle cx="450.3" cy="242.3" r="1.55"/><circle cx="436.4" cy="246.0" r="1.55"/><circle cx="424.5" cy="249.3" r="1.55"/><circle cx="407.0" cy="253.9" r="1.55"/><circle cx="458.0" cy="254.6" r="1.55"/><circle cx="417.8" cy="265.7" r="1.55"/><circle cx="424.5" cy="263.8" r="1.55"/><circle cx="446.0" cy="272.5" r="1.55"/><circle cx="450.3" cy="271.3" r="1.55"/><circle cx="455.4" cy="270.1" r="1.55"/><circle cx="458.0" cy="269.3" r="1.55"/><circle cx="460.4" cy="268.6" r="1.55"/><circle cx="480.7" cy="277.6" r="1.55"/><circle cx="407.0" cy="282.9" r="1.55"/><circle cx="417.8" cy="280.4" r="1.55"/><circle cx="424.5" cy="278.3" r="1.55"/><circle cx="426.3" cy="277.6" r="1.55"/><circle cx="429.8" cy="276.8" r="1.55"/><circle cx="446.0" cy="287.0" r="1.55"/><circle cx="450.3" cy="286.0" r="1.55"/><circle cx="455.4" cy="284.6" r="1.55"/><circle cx="458.0" cy="284.0" r="1.55"/><circle cx="460.4" cy="283.3" r="1.55"/><circle cx="471.6" cy="280.0" r="1.55"/><circle cx="319.4" cy="292.9" r="1.55"/><circle cx="389.9" cy="302.6" r="1.55"/><circle cx="378.5" cy="305.9" r="1.55"/><circle cx="343.8" cy="315.6" r="1.55"/><circle cx="346.0" cy="315.0" r="1.55"/><circle cx="389.9" cy="317.3" r="1.55"/><circle cx="378.5" cy="320.6" r="1.55"/><circle cx="343.8" cy="330.3" r="1.55"/><circle cx="346.0" cy="329.7" r="1.55"/><circle cx="378.5" cy="335.3" r="1.55"/><circle cx="346.0" cy="344.2" r="1.55"/><circle cx="314.2" cy="352.9" r="1.55"/><circle cx="338.0" cy="360.9" r="1.55"/><circle cx="407.0" cy="298.0" r="1.55"/><circle cx="411.8" cy="296.8" r="1.55"/><circle cx="414.4" cy="296.2" r="1.55"/><circle cx="416.1" cy="295.6" r="1.55"/><circle cx="417.8" cy="295.1" r="1.55"/><circle cx="419.5" cy="294.8" r="1.55"/><circle cx="424.5" cy="293.4" r="1.55"/><circle cx="429.8" cy="291.7" r="1.55"/><circle cx="446.0" cy="302.0" r="1.55"/><circle cx="450.3" cy="300.8" r="1.55"/><circle cx="455.4" cy="299.4" r="1.55"/><circle cx="458.0" cy="298.5" r="1.55"/><circle cx="460.4" cy="298.0" r="1.55"/><circle cx="465.5" cy="296.5" r="1.55"/><circle cx="471.6" cy="294.8" r="1.55"/><circle cx="407.0" cy="312.6" r="1.55"/><circle cx="411.8" cy="311.4" r="1.55"/><circle cx="417.8" cy="309.7" r="1.55"/><circle cx="419.5" cy="309.1" r="1.55"/><circle cx="424.5" cy="307.8" r="1.55"/><circle cx="426.3" cy="307.1" r="1.55"/><circle cx="436.4" cy="304.5" r="1.55"/><circle cx="446.0" cy="316.5" r="1.55"/><circle cx="450.3" cy="315.3" r="1.55"/><circle cx="455.4" cy="313.9" r="1.55"/><circle cx="458.0" cy="313.2" r="1.55"/><circle cx="460.4" cy="312.6" r="1.55"/><circle cx="465.5" cy="311.2" r="1.55"/><circle cx="471.6" cy="309.7" r="1.55"/><circle cx="480.7" cy="307.1" r="1.55"/><circle cx="484.8" cy="306.1" r="1.55"/><circle cx="407.0" cy="327.3" r="1.55"/><circle cx="409.3" cy="326.6" r="1.55"/><circle cx="411.8" cy="326.1" r="1.55"/><circle cx="414.4" cy="325.4" r="1.55"/><circle cx="416.1" cy="324.9" r="1.55"/><circle cx="417.8" cy="324.5" r="1.55"/><circle cx="419.5" cy="324.0" r="1.55"/><circle cx="424.5" cy="322.5" r="1.55"/><circle cx="426.3" cy="322.0" r="1.55"/><circle cx="436.4" cy="319.4" r="1.55"/><circle cx="446.0" cy="331.0" r="1.55"/><circle cx="450.3" cy="330.0" r="1.55"/><circle cx="455.4" cy="328.6" r="1.55"/><circle cx="458.0" cy="327.9" r="1.55"/><circle cx="460.4" cy="327.3" r="1.55"/><circle cx="471.6" cy="324.2" r="1.55"/><circle cx="480.7" cy="321.6" r="1.55"/><circle cx="484.8" cy="320.6" r="1.55"/><circle cx="407.0" cy="341.8" r="1.55"/><circle cx="416.1" cy="339.6" r="1.55"/><circle cx="417.8" cy="339.2" r="1.55"/><circle cx="424.5" cy="337.0" r="1.55"/><circle cx="426.3" cy="336.5" r="1.55"/><circle cx="429.8" cy="335.6" r="1.55"/><circle cx="346.0" cy="285.5" r="1.55"/><circle cx="417.8" cy="265.7" r="1.55"/><circle cx="446.0" cy="272.5" r="1.55"/><circle cx="450.3" cy="271.3" r="1.55"/><circle cx="455.4" cy="270.1" r="1.55"/><circle cx="458.0" cy="269.3" r="1.55"/><circle cx="460.4" cy="268.6" r="1.55"/><circle cx="480.7" cy="277.6" r="1.55"/><circle cx="407.0" cy="282.9" r="1.55"/><circle cx="417.8" cy="280.4" r="1.55"/><circle cx="424.5" cy="278.3" r="1.55"/><circle cx="426.3" cy="277.6" r="1.55"/><circle cx="429.8" cy="276.8" r="1.55"/><circle cx="446.0" cy="287.0" r="1.55"/><circle cx="450.3" cy="286.0" r="1.55"/><circle cx="455.4" cy="284.6" r="1.55"/><circle cx="458.0" cy="284.0" r="1.55"/><circle cx="460.4" cy="283.3" r="1.55"/><circle cx="471.6" cy="280.0" r="1.55"/><circle cx="319.4" cy="292.9" r="1.55"/><circle cx="389.9" cy="302.6" r="1.55"/><circle cx="378.5" cy="305.9" r="1.55"/><circle cx="343.8" cy="315.6" r="1.55"/><circle cx="346.0" cy="315.0" r="1.55"/><circle cx="389.9" cy="317.3" r="1.55"/><circle cx="378.5" cy="320.6" r="1.55"/><circle cx="343.8" cy="330.3" r="1.55"/><circle cx="346.0" cy="329.7" r="1.55"/><circle cx="378.5" cy="335.3" r="1.55"/><circle cx="346.0" cy="344.2" r="1.55"/><circle cx="314.2" cy="352.9" r="1.55"/><circle cx="338.0" cy="360.9" r="1.55"/><circle cx="407.0" cy="298.0" r="1.55"/><circle cx="411.8" cy="296.8" r="1.55"/><circle cx="414.4" cy="296.2" r="1.55"/><circle cx="416.1" cy="295.6" r="1.55"/><circle cx="417.8" cy="295.1" r="1.55"/><circle cx="419.5" cy="294.8" r="1.55"/><circle cx="424.5" cy="293.4" r="1.55"/><circle cx="429.8" cy="291.7" r="1.55"/><circle cx="446.0" cy="302.0" r="1.55"/><circle cx="450.3" cy="300.8" r="1.55"/><circle cx="455.4" cy="299.4" r="1.55"/><circle cx="458.0" cy="298.5" r="1.55"/><circle cx="460.4" cy="298.0" r="1.55"/><circle cx="465.5" cy="296.5" r="1.55"/><circle cx="471.6" cy="294.8" r="1.55"/><circle cx="407.0" cy="312.6" r="1.55"/><circle cx="411.8" cy="311.4" r="1.55"/><circle cx="417.8" cy="309.7" r="1.55"/><circle cx="419.5" cy="309.1" r="1.55"/><circle cx="424.5" cy="307.8" r="1.55"/><circle cx="426.3" cy="307.1" r="1.55"/><circle cx="436.4" cy="304.5" r="1.55"/><circle cx="446.0" cy="316.5" r="1.55"/><circle cx="450.3" cy="315.3" r="1.55"/><circle cx="455.4" cy="313.9" r="1.55"/><circle cx="458.0" cy="313.2" r="1.55"/><circle cx="460.4" cy="312.6" r="1.55"/><circle cx="465.5" cy="311.2" r="1.55"/><circle cx="471.6" cy="309.7" r="1.55"/><circle cx="480.7" cy="307.1" r="1.55"/><circle cx="484.8" cy="306.1" r="1.55"/><circle cx="407.0" cy="327.3" r="1.55"/><circle cx="409.3" cy="326.6" r="1.55"/><circle cx="411.8" cy="326.1" r="1.55"/><circle cx="414.4" cy="325.4" r="1.55"/><circle cx="416.1" cy="324.9" r="1.55"/><circle cx="417.8" cy="324.5" r="1.55"/><circle cx="419.5" cy="324.0" r="1.55"/><circle cx="424.5" cy="322.5" r="1.55"/><circle cx="426.3" cy="322.0" r="1.55"/><circle cx="436.4" cy="319.4" r="1.55"/><circle cx="446.0" cy="331.0" r="1.55"/><circle cx="450.3" cy="330.0" r="1.55"/><circle cx="455.4" cy="328.6" r="1.55"/><circle cx="458.0" cy="327.9" r="1.55"/><circle cx="460.4" cy="327.3" r="1.55"/><circle cx="471.6" cy="324.2" r="1.55"/><circle cx="480.7" cy="321.6" r="1.55"/><circle cx="484.8" cy="320.6" r="1.55"/><circle cx="407.0" cy="341.8" r="1.55"/><circle cx="416.1" cy="339.6" r="1.55"/><circle cx="417.8" cy="339.2" r="1.55"/><circle cx="424.5" cy="337.0" r="1.55"/><circle cx="426.3" cy="336.5" r="1.55"/><circle cx="429.8" cy="335.6" r="1.55"/></g>
<line x1="305.5" y1="305.6" x2="493.5" y2="305.6" stroke="#333" stroke-width="1.0"/>
<line x1="496.5" y1="305.6" x2="536.0" y2="305.6" stroke="#333" stroke-width="1.0"/>
<rect x="305.5" y="212.5" width="188.0" height="155.0" class="sp"/>
<rect x="496.5" y="212.5" width="37.0" height="155.0" class="sp"/>
<text x="326.4" y="379.3" class="tk" text-anchor="middle">4.0</text>
<text x="347.6" y="379.3" class="tk" text-anchor="middle">4.2</text>
<text x="368.7" y="379.3" class="tk" text-anchor="middle">4.4</text>
<text x="389.9" y="379.3" class="tk" text-anchor="middle">4.6</text>
<text x="411.1" y="379.3" class="tk" text-anchor="middle">4.8</text>
<text x="432.5" y="379.3" class="tk" text-anchor="middle">5.0</text>
<text x="453.7" y="379.3" class="tk" text-anchor="middle">5.2</text>
<text x="474.8" y="379.3" class="tk" text-anchor="middle">5.4</text>
<text x="497" y="379.3" class="tk" text-anchor="middle">0</text>
<text x="532" y="379.3" class="tk" text-anchor="middle">200</text>
<text x="298.8" y="220.35" class="tk" text-anchor="end">3</text>
<line x1="533.5" y1="218" x2="536.0" y2="218" stroke="#333" stroke-width="0.7"/>
<text x="539.8" y="220.35" class="tk">3</text>
<text x="298.8" y="249.45" class="tk" text-anchor="end">2</text>
<line x1="533.5" y1="247.1" x2="536.0" y2="247.1" stroke="#333" stroke-width="0.7"/>
<text x="539.8" y="249.45" class="tk">2</text>
<text x="298.8" y="278.55" class="tk" text-anchor="end">1</text>
<line x1="533.5" y1="276.2" x2="536.0" y2="276.2" stroke="#333" stroke-width="0.7"/>
<text x="539.8" y="278.55" class="tk">1</text>
<text x="298.8" y="308.05" class="tk" text-anchor="end">0</text>
<line x1="533.5" y1="305.7" x2="536.0" y2="305.7" stroke="#333" stroke-width="0.7"/>
<text x="539.8" y="308.05" class="tk">0</text>
<text x="298.8" y="337.15000000000003" class="tk" text-anchor="end">−1</text>
<line x1="533.5" y1="334.8" x2="536.0" y2="334.8" stroke="#333" stroke-width="0.7"/>
<text x="539.8" y="337.15000000000003" class="tk">−1</text>
<text x="298.8" y="366.15000000000003" class="tk" text-anchor="end">−2</text>
<line x1="533.5" y1="363.8" x2="536.0" y2="363.8" stroke="#333" stroke-width="0.7"/>
<text x="539.8" y="366.15000000000003" class="tk">−2</text>
<text x="399.5" y="386.3" class="lb" text-anchor="middle">Predicted Value</text>
<text x="515.0" y="386.3" class="lb" text-anchor="middle">Distribution</text>
<text transform="translate(289.7,290.8) rotate(-90)" class="lb" text-anchor="middle">Residuals</text>
<text x="399.5" y="209.1" class="lb" text-anchor="middle">(d) Residuals for AdaBoost model</text>
<rect x="307.8" y="214.7" width="64.6" height="18.6" rx="1" fill="#fff" fill-opacity="0.8" stroke="#d0d0d0" stroke-width="0.6"/>
<rect x="310.40000000000003" y="217.89999999999998" width="11.3" height="4" fill="#4a70b4"/>
<rect x="310.40000000000003" y="226.0" width="11.3" height="4" fill="#50a965"/>
<text x="326.0" y="222.0" class="lg">Train <tspan class="mi">R</tspan><tspan class="ms" dy="-2.2">2</tspan><tspan class="mr" dy="2.2"> = 0.140</tspan></text>
<text x="326.0" y="230.1" class="lg">Test <tspan class="mi">R</tspan><tspan class="ms" dy="-2.2">2</tspan><tspan class="mr" dy="2.2"> = 0.028</tspan></text>
<line x1="40.5" y1="413.5" x2="40.5" y2="568.5" class="gr"/>
<line x1="67.5" y1="413.5" x2="67.5" y2="568.5" class="gr"/>
<line x1="94.5" y1="413.5" x2="94.5" y2="568.5" class="gr"/>
<line x1="120.5" y1="413.5" x2="120.5" y2="568.5" class="gr"/>
<line x1="147.5" y1="413.5" x2="147.5" y2="568.5" class="gr"/>
<line x1="174.5" y1="413.5" x2="174.5" y2="568.5" class="gr"/>
<line x1="200.5" y1="413.5" x2="200.5" y2="568.5" class="gr"/>
<line x1="25.5" y1="420.5" x2="213.5" y2="420.5" class="gr"/>
<line x1="216.5" y1="420.5" x2="253.5" y2="420.5" class="gr"/>
<line x1="25.5" y1="451.5" x2="213.5" y2="451.5" class="gr"/>
<line x1="216.5" y1="451.5" x2="253.5" y2="451.5" class="gr"/>
<line x1="25.5" y1="483.5" x2="213.5" y2="483.5" class="gr"/>
<line x1="216.5" y1="483.5" x2="253.5" y2="483.5" class="gr"/>
<line x1="25.5" y1="514.5" x2="213.5" y2="514.5" class="gr"/>
<line x1="216.5" y1="514.5" x2="253.5" y2="514.5" class="gr"/>
<line x1="25.5" y1="545.5" x2="213.5" y2="545.5" class="gr"/>
<line x1="216.5" y1="545.5" x2="253.5" y2="545.5" class="gr"/>
<rect x="216.9" y="506.12" width="9.85" height="0.75" fill="#4a70b4"/>
<rect x="216.9" y="507.16" width="13.20" height="0.75" fill="#4a70b4"/>
<rect x="216.9" y="508.20" width="16.65" height="0.75" fill="#4a70b4"/>
<rect x="216.9" y="509.24" width="17.71" height="0.75" fill="#4a70b4"/>
<rect x="216.9" y="510.28" width="20.69" height="0.75" fill="#4a70b4"/>
<rect x="216.9" y="511.32" width="27.51" height="0.75" fill="#4a70b4"/>
<rect x="216.9" y="512.36" width="25.77" height="0.75" fill="#4a70b4"/>
<rect x="216.9" y="513.41" width="29.59" height="0.75" fill="#4a70b4"/>
<rect x="216.9" y="514.45" width="34.70" height="0.75" fill="#4a70b4"/>
<rect x="216.9" y="515.49" width="32.90" height="0.75" fill="#4a70b4"/>
<rect x="216.9" y="516.53" width="30.30" height="0.75" fill="#4a70b4"/>
<rect x="216.9" y="517.57" width="29.43" height="0.75" fill="#4a70b4"/>
<rect x="216.9" y="518.61" width="26.15" height="0.75" fill="#4a70b4"/>
<rect x="216.9" y="519.65" width="21.93" height="0.75" fill="#4a70b4"/>
<rect x="216.9" y="520.69" width="20.73" height="0.75" fill="#4a70b4"/>
<rect x="216.9" y="521.73" width="16.54" height="0.75" fill="#4a70b4"/>
<rect x="216.9" y="463.49" width="0.56" height="2.0" fill="#50a965"/>
<rect x="216.9" y="471.67" width="0.74" height="2.0" fill="#50a965"/>
<rect x="216.9" y="477.80" width="1.12" height="2.0" fill="#50a965"/>
<rect x="216.9" y="480.59" width="1.30" height="2.0" fill="#50a965"/>
<rect x="216.9" y="483.38" width="1.49" height="2.0" fill="#50a965"/>
<rect x="216.9" y="486.16" width="1.67" height="2.0" fill="#50a965"/>
<rect x="216.9" y="489.14" width="1.30" height="2.0" fill="#50a965"/>
<rect x="216.9" y="491.74" width="1.86" height="2.0" fill="#50a965"/>
<rect x="216.9" y="494.53" width="2.79" height="2.0" fill="#50a965"/>
<rect x="216.9" y="497.32" width="3.35" height="2.0" fill="#50a965"/>
<rect x="216.9" y="500.29" width="5.20" height="2.0" fill="#50a965"/>
<rect x="216.9" y="503.08" width="6.13" height="2.0" fill="#50a965"/>
<rect x="216.9" y="505.87" width="7.99" height="2.0" fill="#50a965"/>
<rect x="216.9" y="508.65" width="8.92" height="2.0" fill="#50a965"/>
<rect x="216.9" y="511.44" width="9.48" height="2.0" fill="#50a965"/>
<rect x="216.9" y="514.23" width="9.85" height="2.0" fill="#50a965"/>
<rect x="216.9" y="517.02" width="11.71" height="2.0" fill="#50a965"/>
<rect x="216.9" y="519.99" width="12.08" height="2.0" fill="#50a965"/>
<rect x="216.9" y="522.78" width="8.36" height="2.0" fill="#50a965"/>
<rect x="216.9" y="525.57" width="7.06" height="2.0" fill="#50a965"/>
<rect x="216.9" y="528.36" width="6.13" height="2.0" fill="#50a965"/>
<rect x="216.9" y="531.14" width="5.76" height="2.0" fill="#50a965"/>
<rect x="216.9" y="534.12" width="4.65" height="2.0" fill="#50a965"/>
<rect x="216.9" y="536.91" width="3.35" height="2.0" fill="#50a965"/>
<rect x="216.9" y="539.70" width="2.42" height="2.0" fill="#50a965"/>
<rect x="216.9" y="542.67" width="1.49" height="2.0" fill="#50a965"/>
<rect x="216.9" y="551.22" width="0.93" height="2.0" fill="#50a965"/>
<g fill="#4a70b4" fill-opacity="0.8" stroke="#4a70b4" stroke-opacity="0.9" stroke-width="0.6"><circle cx="69.8" cy="466.3" r="1.55"/><circle cx="58.7" cy="472.8" r="1.55"/><circle cx="79.5" cy="476.2" r="1.55"/><circle cx="69.8" cy="482.0" r="1.55"/><circle cx="96.8" cy="481.7" r="1.55"/><circle cx="62.1" cy="486.5" r="1.55"/><circle cx="59.2" cy="487.9" r="1.55"/><circle cx="57.5" cy="488.7" r="1.55"/><circle cx="56.1" cy="489.6" r="1.55"/><circle cx="52.3" cy="490.9" r="1.55"/><circle cx="33.9" cy="502.6" r="1.55"/><circle cx="40.0" cy="499.0" r="1.55"/><circle cx="42.1" cy="497.8" r="1.55"/><circle cx="43.8" cy="497.0" r="1.55"/><circle cx="50.6" cy="493.1" r="1.55"/><circle cx="52.3" cy="491.9" r="1.55"/><circle cx="55.8" cy="491.0" r="1.55"/><circle cx="52.9" cy="507.4" r="1.55"/><circle cx="42.8" cy="513.2" r="1.55"/><circle cx="64.0" cy="500.9" r="1.55"/><circle cx="73.2" cy="495.3" r="1.55"/><circle cx="74.9" cy="494.1" r="1.55"/><circle cx="76.4" cy="508.9" r="1.55"/><circle cx="95.4" cy="498.2" r="1.55"/><circle cx="100.2" cy="494.8" r="1.55"/><circle cx="102.3" cy="493.6" r="1.55"/><circle cx="88.2" cy="517.7" r="1.55"/><circle cx="93.0" cy="514.9" r="1.55"/><circle cx="96.8" cy="512.9" r="1.55"/><circle cx="98.1" cy="512.0" r="1.55"/><circle cx="99.3" cy="511.2" r="1.55"/><circle cx="113.0" cy="518.9" r="1.55"/><circle cx="127.9" cy="526.0" r="1.55"/><circle cx="204.5" cy="527.7" r="1.55"/><circle cx="83.1" cy="505.0" r="1.55"/><circle cx="84.4" cy="504.2" r="1.55"/><circle cx="85.8" cy="503.4" r="1.55"/><circle cx="87.1" cy="502.6" r="1.55"/><circle cx="88.5" cy="501.9" r="1.55"/><circle cx="89.8" cy="501.1" r="1.55"/><circle cx="91.2" cy="500.3" r="1.55"/><circle cx="92.5" cy="499.5" r="1.55"/><circle cx="103.6" cy="508.1" r="1.55"/><circle cx="104.6" cy="507.6" r="1.55"/><circle cx="105.5" cy="507.0" r="1.55"/><circle cx="106.5" cy="506.5" r="1.55"/><circle cx="107.4" cy="505.9" r="1.55"/><circle cx="108.4" cy="505.4" r="1.55"/><circle cx="109.3" cy="504.8" r="1.55"/><circle cx="110.3" cy="504.3" r="1.55"/><circle cx="111.2" cy="503.7" r="1.55"/><circle cx="112.2" cy="503.2" r="1.55"/><circle cx="113.1" cy="502.6" r="1.55"/><circle cx="114.1" cy="502.1" r="1.55"/><circle cx="115.0" cy="501.5" r="1.55"/><circle cx="116.0" cy="501.0" r="1.55"/><circle cx="117.0" cy="500.4" r="1.55"/><circle cx="117.9" cy="499.9" r="1.55"/><circle cx="118.9" cy="499.3" r="1.55"/><circle cx="119.8" cy="498.8" r="1.55"/><circle cx="120.8" cy="498.2" r="1.55"/><circle cx="121.7" cy="497.7" r="1.55"/><circle cx="122.7" cy="497.1" r="1.55"/><circle cx="123.6" cy="496.6" r="1.55"/><circle cx="124.6" cy="496.0" r="1.55"/><circle cx="125.5" cy="495.5" r="1.55"/><circle cx="126.5" cy="494.9" r="1.55"/><circle cx="127.4" cy="494.4" r="1.55"/><circle cx="128.4" cy="493.8" r="1.55"/><circle cx="119.0" cy="514.9" r="1.55"/><circle cx="119.8" cy="514.4" r="1.55"/><circle cx="120.7" cy="513.9" r="1.55"/><circle cx="121.5" cy="513.5" r="1.55"/><circle cx="126.0" cy="510.9" r="1.55"/><circle cx="127.0" cy="510.3" r="1.55"/><circle cx="128.0" cy="509.7" r="1.55"/><circle cx="139.5" cy="503.1" r="1.55"/><circle cx="140.5" cy="502.5" r="1.55"/><circle cx="141.5" cy="502.0" r="1.55"/><circle cx="183.1" cy="524.8" r="1.55"/><circle cx="184.1" cy="524.2" r="1.55"/><circle cx="185.0" cy="523.6" r="1.55"/><circle cx="186.0" cy="523.1" r="1.55"/><circle cx="188.0" cy="521.9" r="1.55"/><circle cx="189.0" cy="521.3" r="1.55"/><circle cx="189.9" cy="520.8" r="1.55"/><circle cx="190.9" cy="520.2" r="1.55"/><circle cx="191.8" cy="519.6" r="1.55"/><circle cx="192.8" cy="519.1" r="1.55"/><circle cx="193.8" cy="518.5" r="1.55"/><circle cx="194.7" cy="517.9" r="1.55"/><circle cx="195.7" cy="517.4" r="1.55"/><circle cx="196.6" cy="516.8" r="1.55"/><circle cx="197.6" cy="516.2" r="1.55"/><circle cx="198.5" cy="515.7" r="1.55"/><circle cx="199.5" cy="515.1" r="1.55"/></g>
<g fill="#50a965" fill-opacity="0.8" stroke="#50a965" stroke-opacity="0.9" stroke-width="0.6"><circle cx="105.3" cy="461.2" r="1.55"/><circle cx="84.8" cy="472.8" r="1.55"/><circle cx="86.5" cy="472.0" r="1.55"/><circle cx="93.7" cy="483.2" r="1.55"/><circle cx="112.2" cy="487.9" r="1.55"/><circle cx="113.9" cy="487.0" r="1.55"/><circle cx="107.9" cy="490.8" r="1.55"/><circle cx="108.2" cy="490.6" r="1.55"/><circle cx="174.9" cy="420.3" r="1.55"/><circle cx="165.0" cy="426.0" r="1.55"/><circle cx="166.3" cy="440.9" r="1.55"/><circle cx="140.7" cy="455.7" r="1.55"/><circle cx="142.6" cy="454.5" r="1.55"/><circle cx="166.0" cy="457.1" r="1.55"/><circle cx="162.1" cy="459.1" r="1.55"/><circle cx="158.0" cy="461.4" r="1.55"/><circle cx="153.5" cy="463.9" r="1.55"/><circle cx="176.3" cy="466.3" r="1.55"/><circle cx="178.0" cy="465.1" r="1.55"/><circle cx="180.0" cy="463.9" r="1.55"/><circle cx="142.6" cy="470.6" r="1.55"/><circle cx="188.2" cy="474.9" r="1.55"/><circle cx="134.4" cy="490.8" r="1.55"/><circle cx="140.4" cy="487.3" r="1.55"/><circle cx="151.5" cy="480.7" r="1.55"/><circle cx="193.3" cy="487.5" r="1.55"/><circle cx="187.4" cy="490.4" r="1.55"/><circle cx="107.9" cy="491.0" r="1.55"/><circle cx="97.6" cy="527.7" r="1.55"/><circle cx="104.5" cy="523.5" r="1.55"/><circle cx="108.7" cy="521.4" r="1.55"/><circle cx="115.6" cy="517.5" r="1.55"/><circle cx="118.1" cy="516.1" r="1.55"/><circle cx="104.0" cy="539.9" r="1.55"/><circle cx="114.7" cy="533.2" r="1.55"/><circle cx="116.4" cy="532.4" r="1.55"/><circle cx="85.3" cy="550.6" r="1.55"/><circle cx="101.1" cy="556.8" r="1.55"/><circle cx="108.4" cy="552.5" r="1.55"/><circle cx="114.7" cy="549.1" r="1.55"/><circle cx="118.7" cy="546.7" r="1.55"/><circle cx="118.7" cy="561.6" r="1.55"/><circle cx="120.4" cy="530.7" r="1.55"/><circle cx="121.6" cy="545.7" r="1.55"/><circle cx="126.2" cy="542.3" r="1.55"/><circle cx="193.7" cy="503.0" r="1.55"/><circle cx="133.0" cy="554.2" r="1.55"/><circle cx="136.9" cy="551.7" r="1.55"/><circle cx="137.8" cy="551.2" r="1.55"/><circle cx="131.0" cy="492.3" r="1.55"/><circle cx="131.8" cy="491.8" r="1.55"/><circle cx="132.7" cy="491.4" r="1.55"/><circle cx="133.6" cy="490.9" r="1.55"/><circle cx="134.4" cy="490.4" r="1.55"/><circle cx="142.9" cy="485.5" r="1.55"/><circle cx="143.8" cy="485.0" r="1.55"/><circle cx="144.6" cy="484.5" r="1.55"/><circle cx="145.5" cy="484.0" r="1.55"/><circle cx="146.3" cy="483.5" r="1.55"/><circle cx="154.0" cy="479.1" r="1.55"/><circle cx="154.9" cy="478.6" r="1.55"/><circle cx="155.7" cy="478.1" r="1.55"/><circle cx="156.6" cy="477.6" r="1.55"/><circle cx="161.7" cy="474.7" r="1.55"/><circle cx="162.7" cy="474.1" r="1.55"/><circle cx="163.7" cy="473.5" r="1.55"/><circle cx="164.7" cy="472.9" r="1.55"/><circle cx="165.7" cy="472.4" r="1.55"/><circle cx="166.7" cy="471.8" r="1.55"/><circle cx="167.7" cy="471.2" r="1.55"/><circle cx="121.5" cy="513.5" r="1.55"/><circle cx="122.4" cy="512.9" r="1.55"/><circle cx="123.3" cy="512.4" r="1.55"/><circle cx="124.2" cy="511.9" r="1.55"/><circle cx="125.1" cy="511.4" r="1.55"/><circle cx="126.0" cy="510.9" r="1.55"/><circle cx="128.0" cy="509.7" r="1.55"/><circle cx="129.0" cy="509.2" r="1.55"/><circle cx="129.9" cy="508.6" r="1.55"/><circle cx="130.9" cy="508.1" r="1.55"/><circle cx="131.8" cy="507.5" r="1.55"/><circle cx="132.8" cy="507.0" r="1.55"/><circle cx="133.8" cy="506.4" r="1.55"/><circle cx="134.7" cy="505.9" r="1.55"/><circle cx="135.7" cy="505.3" r="1.55"/><circle cx="136.6" cy="504.8" r="1.55"/><circle cx="137.6" cy="504.2" r="1.55"/><circle cx="138.5" cy="503.7" r="1.55"/><circle cx="139.5" cy="503.1" r="1.55"/><circle cx="141.5" cy="502.0" r="1.55"/><circle cx="142.5" cy="501.4" r="1.55"/><circle cx="143.5" cy="500.8" r="1.55"/><circle cx="144.4" cy="500.3" r="1.55"/><circle cx="145.4" cy="499.7" r="1.55"/><circle cx="146.4" cy="499.2" r="1.55"/><circle cx="147.4" cy="498.6" r="1.55"/><circle cx="148.4" cy="498.0" r="1.55"/><circle cx="149.4" cy="497.5" r="1.55"/><circle cx="150.3" cy="496.9" r="1.55"/><circle cx="151.3" cy="496.3" r="1.55"/><circle cx="152.3" cy="495.8" r="1.55"/><circle cx="154.9" cy="494.3" r="1.55"/><circle cx="155.9" cy="493.7" r="1.55"/><circle cx="156.9" cy="493.1" r="1.55"/><circle cx="158.0" cy="492.5" r="1.55"/><circle cx="159.0" cy="491.9" r="1.55"/><circle cx="160.0" cy="491.3" r="1.55"/><circle cx="129.3" cy="525.2" r="1.55"/><circle cx="130.3" cy="524.6" r="1.55"/><circle cx="131.2" cy="524.1" r="1.55"/><circle cx="132.2" cy="523.5" r="1.55"/><circle cx="133.1" cy="523.0" r="1.55"/><circle cx="134.1" cy="522.4" r="1.55"/><circle cx="135.0" cy="521.8" r="1.55"/><circle cx="136.0" cy="521.3" r="1.55"/><circle cx="136.9" cy="520.7" r="1.55"/><circle cx="137.9" cy="520.2" r="1.55"/><circle cx="138.8" cy="519.6" r="1.55"/><circle cx="139.8" cy="519.0" r="1.55"/><circle cx="140.7" cy="518.5" r="1.55"/><circle cx="141.7" cy="517.9" r="1.55"/><circle cx="142.6" cy="517.4" r="1.55"/><circle cx="143.6" cy="516.8" r="1.55"/><circle cx="144.5" cy="516.2" r="1.55"/><circle cx="145.5" cy="515.7" r="1.55"/><circle cx="146.4" cy="515.1" r="1.55"/><circle cx="147.4" cy="514.5" r="1.55"/><circle cx="148.3" cy="514.0" r="1.55"/><circle cx="149.3" cy="513.4" r="1.55"/><circle cx="150.3" cy="512.9" r="1.55"/><circle cx="151.2" cy="512.3" r="1.55"/><circle cx="152.2" cy="511.7" r="1.55"/><circle cx="153.1" cy="511.2" r="1.55"/><circle cx="154.1" cy="510.6" r="1.55"/><circle cx="155.0" cy="510.1" r="1.55"/><circle cx="156.0" cy="509.5" r="1.55"/><circle cx="156.9" cy="508.9" r="1.55"/><circle cx="157.9" cy="508.4" r="1.55"/><circle cx="158.8" cy="507.8" r="1.55"/><circle cx="159.8" cy="507.3" r="1.55"/><circle cx="160.7" cy="506.7" r="1.55"/><circle cx="161.7" cy="506.1" r="1.55"/><circle cx="162.6" cy="505.6" r="1.55"/><circle cx="163.6" cy="505.0" r="1.55"/><circle cx="164.5" cy="504.5" r="1.55"/><circle cx="165.5" cy="503.9" r="1.55"/><circle cx="166.4" cy="503.3" r="1.55"/><circle cx="167.4" cy="502.8" r="1.55"/><circle cx="168.4" cy="502.2" r="1.55"/><circle cx="169.3" cy="501.7" r="1.55"/><circle cx="170.3" cy="501.1" r="1.55"/><circle cx="171.2" cy="500.5" r="1.55"/><circle cx="172.2" cy="500.0" r="1.55"/><circle cx="173.1" cy="499.4" r="1.55"/><circle cx="174.1" cy="498.8" r="1.55"/><circle cx="175.0" cy="498.3" r="1.55"/><circle cx="176.0" cy="497.7" r="1.55"/><circle cx="176.9" cy="497.2" r="1.55"/><circle cx="177.9" cy="496.6" r="1.55"/><circle cx="178.8" cy="496.0" r="1.55"/><circle cx="179.8" cy="495.5" r="1.55"/><circle cx="180.7" cy="494.9" r="1.55"/><circle cx="181.7" cy="494.4" r="1.55"/><circle cx="182.6" cy="493.8" r="1.55"/><circle cx="183.6" cy="493.2" r="1.55"/><circle cx="184.5" cy="492.7" r="1.55"/><circle cx="185.5" cy="492.1" r="1.55"/><circle cx="186.4" cy="491.6" r="1.55"/><circle cx="187.4" cy="491.0" r="1.55"/><circle cx="130.1" cy="540.1" r="1.55"/><circle cx="131.0" cy="539.5" r="1.55"/><circle cx="132.0" cy="539.0" r="1.55"/><circle cx="132.9" cy="538.4" r="1.55"/><circle cx="133.9" cy="537.9" r="1.55"/><circle cx="134.8" cy="537.3" r="1.55"/><circle cx="135.8" cy="536.8" r="1.55"/><circle cx="136.7" cy="536.2" r="1.55"/><circle cx="137.7" cy="535.6" r="1.55"/><circle cx="138.6" cy="535.1" r="1.55"/><circle cx="139.6" cy="534.5" r="1.55"/><circle cx="140.5" cy="534.0" r="1.55"/><circle cx="141.5" cy="533.4" r="1.55"/><circle cx="142.4" cy="532.9" r="1.55"/><circle cx="143.4" cy="532.3" r="1.55"/><circle cx="144.3" cy="531.7" r="1.55"/><circle cx="145.3" cy="531.2" r="1.55"/><circle cx="146.2" cy="530.6" r="1.55"/><circle cx="147.2" cy="530.1" r="1.55"/><circle cx="148.1" cy="529.5" r="1.55"/><circle cx="149.1" cy="529.0" r="1.55"/><circle cx="150.0" cy="528.4" r="1.55"/><circle cx="151.0" cy="527.8" r="1.55"/><circle cx="151.9" cy="527.3" r="1.55"/><circle cx="152.9" cy="526.7" r="1.55"/><circle cx="153.8" cy="526.2" r="1.55"/><circle cx="154.8" cy="525.6" r="1.55"/><circle cx="155.7" cy="525.1" r="1.55"/><circle cx="156.7" cy="524.5" r="1.55"/><circle cx="157.6" cy="523.9" r="1.55"/><circle cx="158.6" cy="523.4" r="1.55"/><circle cx="159.5" cy="522.8" r="1.55"/><circle cx="160.5" cy="522.3" r="1.55"/><circle cx="161.4" cy="521.7" r="1.55"/><circle cx="162.4" cy="521.2" r="1.55"/><circle cx="163.3" cy="520.6" r="1.55"/><circle cx="164.3" cy="520.0" r="1.55"/><circle cx="165.2" cy="519.5" r="1.55"/><circle cx="166.2" cy="518.9" r="1.55"/><circle cx="167.1" cy="518.4" r="1.55"/><circle cx="168.1" cy="517.8" r="1.55"/><circle cx="169.0" cy="517.3" r="1.55"/><circle cx="170.0" cy="516.7" r="1.55"/><circle cx="170.9" cy="516.1" r="1.55"/><circle cx="171.9" cy="515.6" r="1.55"/><circle cx="172.8" cy="515.0" r="1.55"/><circle cx="173.8" cy="514.5" r="1.55"/><circle cx="174.7" cy="513.9" r="1.55"/><circle cx="175.7" cy="513.4" r="1.55"/><circle cx="176.6" cy="512.8" r="1.55"/><circle cx="177.6" cy="512.2" r="1.55"/><circle cx="178.5" cy="511.7" r="1.55"/><circle cx="179.5" cy="511.1" r="1.55"/><circle cx="180.4" cy="510.6" r="1.55"/><circle cx="181.4" cy="510.0" r="1.55"/><circle cx="182.3" cy="509.5" r="1.55"/><circle cx="183.3" cy="508.9" r="1.55"/><circle cx="184.2" cy="508.3" r="1.55"/><circle cx="185.2" cy="507.8" r="1.55"/><circle cx="186.1" cy="507.2" r="1.55"/><circle cx="187.1" cy="506.7" r="1.55"/><circle cx="188.0" cy="506.1" r="1.55"/><circle cx="189.0" cy="505.6" r="1.55"/><circle cx="189.9" cy="505.0" r="1.55"/><circle cx="147.2" cy="546.0" r="1.55"/><circle cx="148.1" cy="545.4" r="1.55"/><circle cx="149.1" cy="544.9" r="1.55"/><circle cx="150.0" cy="544.3" r="1.55"/><circle cx="151.0" cy="543.8" r="1.55"/><circle cx="151.9" cy="543.2" r="1.55"/><circle cx="152.9" cy="542.7" r="1.55"/><circle cx="153.8" cy="542.1" r="1.55"/><circle cx="154.8" cy="541.5" r="1.55"/><circle cx="155.7" cy="541.0" r="1.55"/><circle cx="156.6" cy="540.4" r="1.55"/><circle cx="157.6" cy="539.9" r="1.55"/><circle cx="158.5" cy="539.3" r="1.55"/><circle cx="159.5" cy="538.7" r="1.55"/><circle cx="160.4" cy="538.2" r="1.55"/><circle cx="161.4" cy="537.6" r="1.55"/><circle cx="162.3" cy="537.1" r="1.55"/><circle cx="163.3" cy="536.5" r="1.55"/><circle cx="164.2" cy="536.0" r="1.55"/><circle cx="165.1" cy="535.4" r="1.55"/><circle cx="166.1" cy="534.8" r="1.55"/><circle cx="167.0" cy="534.3" r="1.55"/><circle cx="168.0" cy="533.7" r="1.55"/><circle cx="168.9" cy="533.2" r="1.55"/><circle cx="169.9" cy="532.6" r="1.55"/><circle cx="170.8" cy="532.0" r="1.55"/><circle cx="171.8" cy="531.5" r="1.55"/><circle cx="172.7" cy="530.9" r="1.55"/><circle cx="173.7" cy="530.4" r="1.55"/><circle cx="174.6" cy="529.8" r="1.55"/><circle cx="175.5" cy="529.3" r="1.55"/><circle cx="176.5" cy="528.7" r="1.55"/><circle cx="177.4" cy="528.1" r="1.55"/><circle cx="178.4" cy="527.6" r="1.55"/><circle cx="179.3" cy="527.0" r="1.55"/><circle cx="180.3" cy="526.5" r="1.55"/><circle cx="181.2" cy="525.9" r="1.55"/><circle cx="182.2" cy="525.3" r="1.55"/><circle cx="183.1" cy="524.8" r="1.55"/><circle cx="186.0" cy="523.1" r="1.55"/><circle cx="187.0" cy="522.5" r="1.55"/><circle cx="188.0" cy="521.9" r="1.55"/><circle cx="199.5" cy="515.1" r="1.55"/><circle cx="200.6" cy="514.5" r="1.55"/><circle cx="201.6" cy="513.8" r="1.55"/><circle cx="202.7" cy="513.2" r="1.55"/><circle cx="163.4" cy="489.0" r="1.55"/><circle cx="164.4" cy="488.5" r="1.55"/><circle cx="165.3" cy="487.9" r="1.55"/><circle cx="166.3" cy="487.4" r="1.55"/><circle cx="167.3" cy="486.8" r="1.55"/><circle cx="168.3" cy="486.3" r="1.55"/><circle cx="169.2" cy="485.8" r="1.55"/><circle cx="170.2" cy="485.2" r="1.55"/><circle cx="171.2" cy="484.7" r="1.55"/><circle cx="172.2" cy="484.1" r="1.55"/><circle cx="173.1" cy="483.6" r="1.55"/><circle cx="174.1" cy="483.1" r="1.55"/><circle cx="175.1" cy="482.5" r="1.55"/><circle cx="176.0" cy="482.0" r="1.55"/><circle cx="177.0" cy="481.4" r="1.55"/><circle cx="178.0" cy="480.9" r="1.55"/><circle cx="179.0" cy="480.3" r="1.55"/><circle cx="179.9" cy="479.8" r="1.55"/><circle cx="180.9" cy="479.3" r="1.55"/><circle cx="181.9" cy="478.7" r="1.55"/><circle cx="182.9" cy="478.2" r="1.55"/><circle cx="183.8" cy="477.6" r="1.55"/><circle cx="184.8" cy="477.1" r="1.55"/></g>
<line x1="25.5" y1="514.4" x2="213.5" y2="514.4" stroke="#333" stroke-width="1.0"/>
<line x1="216.5" y1="514.4" x2="256.0" y2="514.4" stroke="#333" stroke-width="1.0"/>
<rect x="25.5" y="413.5" width="188.0" height="155.0" class="sp"/>
<rect x="216.5" y="413.5" width="37.0" height="155.0" class="sp"/>
<text x="40.9" y="580.3" class="tk" text-anchor="middle">3.0</text>
<text x="67.6" y="580.3" class="tk" text-anchor="middle">3.5</text>
<text x="94.3" y="580.3" class="tk" text-anchor="middle">4.0</text>
<text x="120.9" y="580.3" class="tk" text-anchor="middle">4.5</text>
<text x="147.4" y="580.3" class="tk" text-anchor="middle">5.0</text>
<text x="174.0" y="580.3" class="tk" text-anchor="middle">5.5</text>
<text x="200.6" y="580.3" class="tk" text-anchor="middle">6.0</text>
<text x="216.8" y="580.3" class="tk" text-anchor="middle">0</text>
<text x="244.3" y="580.3" class="tk" text-anchor="middle">100</text>
<text x="18.8" y="423.05" class="tk" text-anchor="end">3</text>
<line x1="253.5" y1="420.7" x2="256.0" y2="420.7" stroke="#333" stroke-width="0.7"/>
<text x="259.8" y="423.05" class="tk">3</text>
<text x="18.8" y="454.25" class="tk" text-anchor="end">2</text>
<line x1="253.5" y1="451.9" x2="256.0" y2="451.9" stroke="#333" stroke-width="0.7"/>
<text x="259.8" y="454.25" class="tk">2</text>
<text x="18.8" y="485.40000000000003" class="tk" text-anchor="end">1</text>
<line x1="253.5" y1="483.05" x2="256.0" y2="483.05" stroke="#333" stroke-width="0.7"/>
<text x="259.8" y="485.40000000000003" class="tk">1</text>
<text x="18.8" y="516.5500000000001" class="tk" text-anchor="end">0</text>
<line x1="253.5" y1="514.2" x2="256.0" y2="514.2" stroke="#333" stroke-width="0.7"/>
<text x="259.8" y="516.5500000000001" class="tk">0</text>
<text x="18.8" y="547.75" class="tk" text-anchor="end">−1</text>
<line x1="253.5" y1="545.4" x2="256.0" y2="545.4" stroke="#333" stroke-width="0.7"/>
<text x="259.8" y="547.75" class="tk">−1</text>
<text x="119.5" y="587.3" class="lb" text-anchor="middle">Predicted Value</text>
<text x="235.0" y="587.3" class="lb" text-anchor="middle">Distribution</text>
<text transform="translate(9.7,491.8) rotate(-90)" class="lb" text-anchor="middle">Residuals</text>
<text x="119.5" y="410.1" class="lb" text-anchor="middle">(e) Residuals for LightGBM model</text>
<rect x="27.8" y="415.7" width="64.6" height="18.6" rx="1" fill="#fff" fill-opacity="0.8" stroke="#d0d0d0" stroke-width="0.6"/>
<rect x="30.400000000000002" y="418.9" width="11.3" height="4" fill="#4a70b4"/>
<rect x="30.400000000000002" y="427.0" width="11.3" height="4" fill="#50a965"/>
<text x="46.0" y="423.0" class="lg">Train <tspan class="mi">R</tspan><tspan class="ms" dy="-2.2">2</tspan><tspan class="mr" dy="2.2"> = 0.870</tspan></text>
<text x="46.0" y="431.09999999999997" class="lg">Test <tspan class="mi">R</tspan><tspan class="ms" dy="-2.2">2</tspan><tspan class="mr" dy="2.2"> = 0.043</tspan></text>
<line x1="314.5" y1="413.5" x2="314.5" y2="568.5" class="gr"/>
<line x1="352.5" y1="413.5" x2="352.5" y2="568.5" class="gr"/>
<line x1="390.5" y1="413.5" x2="390.5" y2="568.5" class="gr"/>
<line x1="429.5" y1="413.5" x2="429.5" y2="568.5" class="gr"/>
<line x1="467.5" y1="413.5" x2="467.5" y2="568.5" class="gr"/>
<line x1="305.5" y1="442.5" x2="493.5" y2="442.5" class="gr"/>
<line x1="496.5" y1="442.5" x2="533.5" y2="442.5" class="gr"/>
<line x1="305.5" y1="471.5" x2="493.5" y2="471.5" class="gr"/>
<line x1="496.5" y1="471.5" x2="533.5" y2="471.5" class="gr"/>
<line x1="305.5" y1="500.5" x2="493.5" y2="500.5" class="gr"/>
<line x1="496.5" y1="500.5" x2="533.5" y2="500.5" class="gr"/>
<line x1="305.5" y1="529.5" x2="493.5" y2="529.5" class="gr"/>
<line x1="496.5" y1="529.5" x2="533.5" y2="529.5" class="gr"/>
<line x1="305.5" y1="558.5" x2="493.5" y2="558.5" class="gr"/>
<line x1="496.5" y1="558.5" x2="533.5" y2="558.5" class="gr"/>
<rect x="496.9" y="454.68" width="0.45" height="2.1" fill="#50a965"/>
<rect x="496.9" y="462.54" width="0.67" height="2.1" fill="#50a965"/>
<rect x="496.9" y="465.91" width="0.90" height="2.1" fill="#50a965"/>
<rect x="496.9" y="469.28" width="1.12" height="2.1" fill="#50a965"/>
<rect x="496.9" y="472.65" width="1.35" height="2.1" fill="#50a965"/>
<rect x="496.9" y="476.02" width="1.80" height="2.1" fill="#50a965"/>
<rect x="496.9" y="479.39" width="2.25" height="2.1" fill="#50a965"/>
<rect x="496.9" y="482.76" width="2.92" height="2.1" fill="#50a965"/>
<rect x="496.9" y="486.13" width="4.94" height="2.1" fill="#50a965"/>
<rect x="496.9" y="488.83" width="4.94" height="2.1" fill="#50a965"/>
<rect x="496.9" y="491.52" width="4.49" height="2.1" fill="#50a965"/>
<rect x="496.9" y="494.22" width="6.29" height="2.1" fill="#50a965"/>
<rect x="496.9" y="496.91" width="8.99" height="2.1" fill="#50a965"/>
<rect x="496.9" y="499.61" width="9.44" height="2.1" fill="#50a965"/>
<rect x="496.9" y="502.53" width="7.86" height="2.1" fill="#50a965"/>
<rect x="496.9" y="505.45" width="10.11" height="2.1" fill="#50a965"/>
<rect x="496.9" y="508.37" width="7.86" height="2.1" fill="#50a965"/>
<rect x="496.9" y="511.29" width="4.94" height="2.1" fill="#50a965"/>
<rect x="496.9" y="514.21" width="4.04" height="2.1" fill="#50a965"/>
<rect x="496.9" y="517.13" width="5.62" height="2.1" fill="#50a965"/>
<rect x="496.9" y="519.83" width="4.49" height="2.1" fill="#50a965"/>
<rect x="496.9" y="522.53" width="2.70" height="2.1" fill="#50a965"/>
<rect x="496.9" y="525.45" width="1.80" height="2.1" fill="#50a965"/>
<rect x="496.9" y="528.37" width="1.12" height="2.1" fill="#50a965"/>
<rect x="496.9" y="533.31" width="0.67" height="2.1" fill="#50a965"/>
<rect x="496.9" y="536.68" width="0.45" height="2.1" fill="#50a965"/>
<g fill="#4a70b4" fill-opacity="0.8" stroke="#4a70b4" stroke-opacity="0.9" stroke-width="0.6"><circle cx="314.4" cy="500.4" r="1.55"/><circle cx="318.3" cy="497.5" r="1.55"/><circle cx="344.0" cy="492.7" r="1.55"/><circle cx="484.5" cy="502.1" r="1.55"/><circle cx="333.2" cy="500.4" r="1.55"/><circle cx="334.1" cy="499.8" r="1.55"/><circle cx="334.9" cy="499.2" r="1.55"/><circle cx="335.8" cy="498.5" r="1.55"/><circle cx="336.6" cy="497.9" r="1.55"/><circle cx="337.5" cy="497.3" r="1.55"/><circle cx="338.3" cy="496.7" r="1.55"/><circle cx="339.2" cy="496.0" r="1.55"/><circle cx="340.0" cy="495.4" r="1.55"/><circle cx="340.9" cy="494.8" r="1.55"/><circle cx="352.0" cy="500.4" r="1.55"/><circle cx="353.0" cy="499.8" r="1.55"/><circle cx="353.9" cy="499.2" r="1.55"/><circle cx="354.9" cy="498.5" r="1.55"/><circle cx="355.8" cy="497.9" r="1.55"/><circle cx="356.8" cy="497.3" r="1.55"/><circle cx="371.7" cy="500.4" r="1.55"/><circle cx="372.6" cy="499.8" r="1.55"/><circle cx="373.4" cy="499.1" r="1.55"/><circle cx="374.2" cy="498.5" r="1.55"/><circle cx="375.1" cy="497.9" r="1.55"/><circle cx="375.9" cy="497.2" r="1.55"/><circle cx="376.8" cy="496.6" r="1.55"/><circle cx="377.6" cy="496.0" r="1.55"/><circle cx="378.5" cy="495.4" r="1.55"/><circle cx="379.3" cy="494.7" r="1.55"/><circle cx="380.2" cy="494.1" r="1.55"/><circle cx="389.6" cy="500.9" r="1.55"/><circle cx="390.6" cy="500.3" r="1.55"/><circle cx="391.5" cy="499.7" r="1.55"/><circle cx="392.5" cy="499.0" r="1.55"/><circle cx="393.4" cy="498.4" r="1.55"/><circle cx="394.4" cy="497.8" r="1.55"/><circle cx="395.3" cy="497.2" r="1.55"/><circle cx="396.3" cy="496.6" r="1.55"/><circle cx="398.3" cy="495.3" r="1.55"/><circle cx="398.4" cy="495.2" r="1.55"/><circle cx="410.1" cy="500.4" r="1.55"/><circle cx="411.0" cy="499.8" r="1.55"/><circle cx="411.8" cy="499.2" r="1.55"/><circle cx="412.7" cy="498.5" r="1.55"/><circle cx="413.5" cy="497.9" r="1.55"/><circle cx="414.4" cy="497.3" r="1.55"/><circle cx="415.2" cy="496.6" r="1.55"/><circle cx="416.1" cy="496.0" r="1.55"/><circle cx="462.2" cy="504.0" r="1.55"/><circle cx="463.1" cy="503.3" r="1.55"/><circle cx="463.9" cy="502.7" r="1.55"/><circle cx="464.8" cy="502.0" r="1.55"/><circle cx="465.6" cy="501.3" r="1.55"/><circle cx="466.5" cy="500.7" r="1.55"/><circle cx="467.4" cy="500.0" r="1.55"/><circle cx="468.2" cy="499.4" r="1.55"/><circle cx="469.1" cy="498.7" r="1.55"/></g>
<g fill="#50a965" fill-opacity="0.8" stroke="#50a965" stroke-opacity="0.9" stroke-width="0.6"><circle cx="397.6" cy="451.6" r="1.55"/><circle cx="398.1" cy="451.3" r="1.55"/><circle cx="377.0" cy="467.3" r="1.55"/><circle cx="391.8" cy="485.0" r="1.55"/><circle cx="438.8" cy="420.3" r="1.55"/><circle cx="429.8" cy="427.2" r="1.55"/><circle cx="450.4" cy="426.2" r="1.55"/><circle cx="423.4" cy="446.3" r="1.55"/><circle cx="425.0" cy="445.1" r="1.55"/><circle cx="443.4" cy="445.8" r="1.55"/><circle cx="445.5" cy="444.1" r="1.55"/><circle cx="399.0" cy="450.9" r="1.55"/><circle cx="432.3" cy="454.5" r="1.55"/><circle cx="426.3" cy="458.8" r="1.55"/><circle cx="401.6" cy="463.2" r="1.55"/><circle cx="444.3" cy="459.5" r="1.55"/><circle cx="446.0" cy="458.3" r="1.55"/><circle cx="447.7" cy="457.1" r="1.55"/><circle cx="449.4" cy="456.1" r="1.55"/><circle cx="462.2" cy="461.2" r="1.55"/><circle cx="438.7" cy="463.9" r="1.55"/><circle cx="440.9" cy="462.6" r="1.55"/><circle cx="456.8" cy="464.8" r="1.55"/><circle cx="433.2" cy="468.2" r="1.55"/><circle cx="435.2" cy="466.8" r="1.55"/><circle cx="428.1" cy="472.0" r="1.55"/><circle cx="429.1" cy="471.1" r="1.55"/><circle cx="430.3" cy="470.3" r="1.55"/><circle cx="410.6" cy="470.6" r="1.55"/><circle cx="418.3" cy="479.3" r="1.55"/><circle cx="421.2" cy="477.1" r="1.55"/><circle cx="422.9" cy="476.2" r="1.55"/><circle cx="411.8" cy="483.9" r="1.55"/><circle cx="408.9" cy="486.5" r="1.55"/><circle cx="466.0" cy="487.0" r="1.55"/><circle cx="460.5" cy="490.8" r="1.55"/><circle cx="382.3" cy="492.7" r="1.55"/><circle cx="397.1" cy="510.5" r="1.55"/><circle cx="397.6" cy="510.1" r="1.55"/><circle cx="395.6" cy="526.0" r="1.55"/><circle cx="370.8" cy="530.1" r="1.55"/><circle cx="366.2" cy="533.6" r="1.55"/><circle cx="398.7" cy="538.0" r="1.55"/><circle cx="372.7" cy="543.3" r="1.55"/><circle cx="392.5" cy="542.6" r="1.55"/><circle cx="385.5" cy="548.3" r="1.55"/><circle cx="386.4" cy="561.9" r="1.55"/><circle cx="405.0" cy="504.2" r="1.55"/><circle cx="406.7" cy="503.0" r="1.55"/><circle cx="417.8" cy="494.4" r="1.55"/><circle cx="423.8" cy="491.0" r="1.55"/><circle cx="405.8" cy="518.3" r="1.55"/><circle cx="403.3" cy="534.6" r="1.55"/><circle cx="401.6" cy="550.8" r="1.55"/><circle cx="426.3" cy="531.5" r="1.55"/><circle cx="422.9" cy="491.0" r="1.55"/><circle cx="423.8" cy="490.4" r="1.55"/><circle cx="424.7" cy="489.7" r="1.55"/><circle cx="425.5" cy="489.1" r="1.55"/><circle cx="426.4" cy="488.4" r="1.55"/><circle cx="427.3" cy="487.8" r="1.55"/><circle cx="428.2" cy="487.1" r="1.55"/><circle cx="429.0" cy="486.5" r="1.55"/><circle cx="429.9" cy="485.8" r="1.55"/><circle cx="430.8" cy="485.2" r="1.55"/><circle cx="431.7" cy="484.5" r="1.55"/><circle cx="432.6" cy="483.9" r="1.55"/><circle cx="433.4" cy="483.2" r="1.55"/><circle cx="434.3" cy="482.6" r="1.55"/><circle cx="435.2" cy="481.9" r="1.55"/><circle cx="436.1" cy="481.3" r="1.55"/><circle cx="436.9" cy="480.6" r="1.55"/><circle cx="437.8" cy="480.0" r="1.55"/><circle cx="438.7" cy="479.4" r="1.55"/><circle cx="439.6" cy="478.7" r="1.55"/><circle cx="440.5" cy="478.1" r="1.55"/><circle cx="441.3" cy="477.4" r="1.55"/><circle cx="442.2" cy="476.8" r="1.55"/><circle cx="443.1" cy="476.1" r="1.55"/><circle cx="444.0" cy="475.5" r="1.55"/><circle cx="444.8" cy="474.8" r="1.55"/><circle cx="445.7" cy="474.2" r="1.55"/><circle cx="446.6" cy="473.5" r="1.55"/><circle cx="447.5" cy="472.9" r="1.55"/><circle cx="448.4" cy="472.2" r="1.55"/><circle cx="449.2" cy="471.6" r="1.55"/><circle cx="450.1" cy="470.9" r="1.55"/><circle cx="451.0" cy="470.3" r="1.55"/><circle cx="451.9" cy="469.6" r="1.55"/><circle cx="452.7" cy="469.0" r="1.55"/><circle cx="453.6" cy="468.3" r="1.55"/><circle cx="454.5" cy="467.7" r="1.55"/><circle cx="412.7" cy="513.2" r="1.55"/><circle cx="413.6" cy="512.5" r="1.55"/><circle cx="414.5" cy="511.9" r="1.55"/><circle cx="415.3" cy="511.2" r="1.55"/><circle cx="416.2" cy="510.5" r="1.55"/><circle cx="417.1" cy="509.9" r="1.55"/><circle cx="418.0" cy="509.2" r="1.55"/><circle cx="418.9" cy="508.5" r="1.55"/><circle cx="419.8" cy="507.8" r="1.55"/><circle cx="420.6" cy="507.2" r="1.55"/><circle cx="421.5" cy="506.5" r="1.55"/><circle cx="422.4" cy="505.8" r="1.55"/><circle cx="423.3" cy="505.2" r="1.55"/><circle cx="424.2" cy="504.5" r="1.55"/><circle cx="425.1" cy="503.8" r="1.55"/><circle cx="425.9" cy="503.2" r="1.55"/><circle cx="426.8" cy="502.5" r="1.55"/><circle cx="427.7" cy="501.8" r="1.55"/><circle cx="428.6" cy="501.1" r="1.55"/><circle cx="429.5" cy="500.5" r="1.55"/><circle cx="430.4" cy="499.8" r="1.55"/><circle cx="431.2" cy="499.1" r="1.55"/><circle cx="432.1" cy="498.5" r="1.55"/><circle cx="433.0" cy="497.8" r="1.55"/><circle cx="433.9" cy="497.1" r="1.55"/><circle cx="434.8" cy="496.5" r="1.55"/><circle cx="435.7" cy="495.8" r="1.55"/><circle cx="436.5" cy="495.1" r="1.55"/><circle cx="437.4" cy="494.5" r="1.55"/><circle cx="438.3" cy="493.8" r="1.55"/><circle cx="439.2" cy="493.1" r="1.55"/><circle cx="440.1" cy="492.4" r="1.55"/><circle cx="441.0" cy="491.8" r="1.55"/><circle cx="441.8" cy="491.1" r="1.55"/><circle cx="442.7" cy="490.4" r="1.55"/><circle cx="443.6" cy="489.8" r="1.55"/><circle cx="444.5" cy="489.1" r="1.55"/><circle cx="445.4" cy="488.4" r="1.55"/><circle cx="446.3" cy="487.8" r="1.55"/><circle cx="447.1" cy="487.1" r="1.55"/><circle cx="448.0" cy="486.4" r="1.55"/><circle cx="448.9" cy="485.8" r="1.55"/><circle cx="449.8" cy="485.1" r="1.55"/><circle cx="450.7" cy="484.4" r="1.55"/><circle cx="451.6" cy="483.7" r="1.55"/><circle cx="452.4" cy="483.1" r="1.55"/><circle cx="453.3" cy="482.4" r="1.55"/><circle cx="454.2" cy="481.7" r="1.55"/><circle cx="455.1" cy="481.1" r="1.55"/><circle cx="456.0" cy="480.4" r="1.55"/><circle cx="456.9" cy="479.7" r="1.55"/><circle cx="457.7" cy="479.1" r="1.55"/><circle cx="458.6" cy="478.4" r="1.55"/><circle cx="459.5" cy="477.7" r="1.55"/><circle cx="460.4" cy="477.0" r="1.55"/><circle cx="461.3" cy="476.4" r="1.55"/><circle cx="462.2" cy="475.7" r="1.55"/><circle cx="463.0" cy="475.0" r="1.55"/><circle cx="463.9" cy="474.4" r="1.55"/><circle cx="464.8" cy="473.7" r="1.55"/><circle cx="407.5" cy="531.5" r="1.55"/><circle cx="408.4" cy="530.8" r="1.55"/><circle cx="409.3" cy="530.2" r="1.55"/><circle cx="410.2" cy="529.5" r="1.55"/><circle cx="411.0" cy="528.8" r="1.55"/><circle cx="411.9" cy="528.2" r="1.55"/><circle cx="412.8" cy="527.5" r="1.55"/><circle cx="413.7" cy="526.9" r="1.55"/><circle cx="414.6" cy="526.2" r="1.55"/><circle cx="415.5" cy="525.5" r="1.55"/><circle cx="416.3" cy="524.9" r="1.55"/><circle cx="417.2" cy="524.2" r="1.55"/><circle cx="418.1" cy="523.5" r="1.55"/><circle cx="419.0" cy="522.9" r="1.55"/><circle cx="419.9" cy="522.2" r="1.55"/><circle cx="420.8" cy="521.5" r="1.55"/><circle cx="421.6" cy="520.9" r="1.55"/><circle cx="422.5" cy="520.2" r="1.55"/><circle cx="423.4" cy="519.5" r="1.55"/><circle cx="424.3" cy="518.9" r="1.55"/><circle cx="425.2" cy="518.2" r="1.55"/><circle cx="426.1" cy="517.6" r="1.55"/><circle cx="426.9" cy="516.9" r="1.55"/><circle cx="427.8" cy="516.2" r="1.55"/><circle cx="428.7" cy="515.6" r="1.55"/><circle cx="429.6" cy="514.9" r="1.55"/><circle cx="430.5" cy="514.2" r="1.55"/><circle cx="431.4" cy="513.6" r="1.55"/><circle cx="432.2" cy="512.9" r="1.55"/><circle cx="433.1" cy="512.2" r="1.55"/><circle cx="434.0" cy="511.6" r="1.55"/><circle cx="434.9" cy="510.9" r="1.55"/><circle cx="435.8" cy="510.3" r="1.55"/><circle cx="436.7" cy="509.6" r="1.55"/><circle cx="437.5" cy="508.9" r="1.55"/><circle cx="438.4" cy="508.3" r="1.55"/><circle cx="439.3" cy="507.6" r="1.55"/><circle cx="440.2" cy="506.9" r="1.55"/><circle cx="441.1" cy="506.3" r="1.55"/><circle cx="442.0" cy="505.6" r="1.55"/><circle cx="442.8" cy="504.9" r="1.55"/><circle cx="443.7" cy="504.3" r="1.55"/><circle cx="444.6" cy="503.6" r="1.55"/><circle cx="445.5" cy="503.0" r="1.55"/><circle cx="446.4" cy="502.3" r="1.55"/><circle cx="447.3" cy="501.6" r="1.55"/><circle cx="448.1" cy="501.0" r="1.55"/><circle cx="449.0" cy="500.3" r="1.55"/><circle cx="449.9" cy="499.6" r="1.55"/><circle cx="450.8" cy="499.0" r="1.55"/><circle cx="451.7" cy="498.3" r="1.55"/><circle cx="452.6" cy="497.6" r="1.55"/><circle cx="453.4" cy="497.0" r="1.55"/><circle cx="454.3" cy="496.3" r="1.55"/><circle cx="455.2" cy="495.6" r="1.55"/><circle cx="456.1" cy="495.0" r="1.55"/><circle cx="457.0" cy="494.3" r="1.55"/><circle cx="457.9" cy="493.7" r="1.55"/><circle cx="458.7" cy="493.0" r="1.55"/><circle cx="459.6" cy="492.3" r="1.55"/><circle cx="460.5" cy="491.7" r="1.55"/><circle cx="461.4" cy="491.0" r="1.55"/><circle cx="408.4" cy="545.2" r="1.55"/><circle cx="409.2" cy="544.6" r="1.55"/><circle cx="410.1" cy="543.9" r="1.55"/><circle cx="410.9" cy="543.3" r="1.55"/><circle cx="411.8" cy="542.6" r="1.55"/><circle cx="416.1" cy="539.3" r="1.55"/><circle cx="417.0" cy="538.6" r="1.55"/><circle cx="417.8" cy="538.0" r="1.55"/><circle cx="418.7" cy="537.3" r="1.55"/><circle cx="419.5" cy="536.7" r="1.55"/><circle cx="420.4" cy="536.0" r="1.55"/><circle cx="428.9" cy="529.5" r="1.55"/><circle cx="429.8" cy="528.8" r="1.55"/><circle cx="430.7" cy="528.2" r="1.55"/><circle cx="431.5" cy="527.5" r="1.55"/><circle cx="432.4" cy="526.8" r="1.55"/><circle cx="433.3" cy="526.1" r="1.55"/><circle cx="434.2" cy="525.5" r="1.55"/><circle cx="435.0" cy="524.8" r="1.55"/><circle cx="435.9" cy="524.1" r="1.55"/><circle cx="436.8" cy="523.5" r="1.55"/><circle cx="437.7" cy="522.8" r="1.55"/><circle cx="438.5" cy="522.1" r="1.55"/><circle cx="439.4" cy="521.4" r="1.55"/><circle cx="440.3" cy="520.8" r="1.55"/><circle cx="441.2" cy="520.1" r="1.55"/><circle cx="442.0" cy="519.4" r="1.55"/><circle cx="442.9" cy="518.8" r="1.55"/><circle cx="443.8" cy="518.1" r="1.55"/><circle cx="444.7" cy="517.4" r="1.55"/><circle cx="445.5" cy="516.7" r="1.55"/><circle cx="446.4" cy="516.1" r="1.55"/><circle cx="447.3" cy="515.4" r="1.55"/><circle cx="448.2" cy="514.7" r="1.55"/><circle cx="449.1" cy="514.1" r="1.55"/><circle cx="449.9" cy="513.4" r="1.55"/><circle cx="450.8" cy="512.7" r="1.55"/><circle cx="451.7" cy="512.0" r="1.55"/><circle cx="452.6" cy="511.4" r="1.55"/><circle cx="453.4" cy="510.7" r="1.55"/><circle cx="454.3" cy="510.0" r="1.55"/><circle cx="455.2" cy="509.4" r="1.55"/><circle cx="456.1" cy="508.7" r="1.55"/><circle cx="456.9" cy="508.0" r="1.55"/><circle cx="457.8" cy="507.3" r="1.55"/><circle cx="458.7" cy="506.7" r="1.55"/><circle cx="459.6" cy="506.0" r="1.55"/><circle cx="460.4" cy="505.3" r="1.55"/><circle cx="461.3" cy="504.7" r="1.55"/><circle cx="462.2" cy="504.0" r="1.55"/></g>
<line x1="305.5" y1="500.5" x2="493.5" y2="500.5" stroke="#333" stroke-width="1.0"/>
<line x1="496.5" y1="500.5" x2="536.0" y2="500.5" stroke="#333" stroke-width="1.0"/>
<rect x="305.5" y="413.5" width="188.0" height="155.0" class="sp"/>
<rect x="496.5" y="413.5" width="37.0" height="155.0" class="sp"/>
<text x="314.4" y="580.3" class="tk" text-anchor="middle">2</text>
<text x="352.3" y="580.3" class="tk" text-anchor="middle">3</text>
<text x="390.4" y="580.3" class="tk" text-anchor="middle">4</text>
<text x="429.2" y="580.3" class="tk" text-anchor="middle">5</text>
<text x="467.3" y="580.3" class="tk" text-anchor="middle">6</text>
<text x="497" y="580.3" class="tk" text-anchor="middle">0</text>
<text x="519" y="580.3" class="tk" text-anchor="middle">100</text>
<text x="298.8" y="444.85" class="tk" text-anchor="end">2</text>
<line x1="533.5" y1="442.5" x2="536.0" y2="442.5" stroke="#333" stroke-width="0.7"/>
<text x="539.8" y="444.85" class="tk">2</text>
<text x="298.8" y="473.65000000000003" class="tk" text-anchor="end">1</text>
<line x1="533.5" y1="471.3" x2="536.0" y2="471.3" stroke="#333" stroke-width="0.7"/>
<text x="539.8" y="473.65000000000003" class="tk">1</text>
<text x="298.8" y="502.75" class="tk" text-anchor="end">0</text>
<line x1="533.5" y1="500.4" x2="536.0" y2="500.4" stroke="#333" stroke-width="0.7"/>
<text x="539.8" y="502.75" class="tk">0</text>
<text x="298.8" y="531.75" class="tk" text-anchor="end">−1</text>
<line x1="533.5" y1="529.4" x2="536.0" y2="529.4" stroke="#333" stroke-width="0.7"/>
<text x="539.8" y="531.75" class="tk">−1</text>
<text x="298.8" y="560.65" class="tk" text-anchor="end">−2</text>
<line x1="533.5" y1="558.3" x2="536.0" y2="558.3" stroke="#333" stroke-width="0.7"/>
<text x="539.8" y="560.65" class="tk">−2</text>
<text x="399.5" y="587.3" class="lb" text-anchor="middle">Predicted Value</text>
<text x="515.0" y="587.3" class="lb" text-anchor="middle">Distribution</text>
<text transform="translate(289.7,491.8) rotate(-90)" class="lb" text-anchor="middle">Residuals</text>
<text x="399.5" y="410.1" class="lb" text-anchor="middle">(f) Residuals for XGBoost model</text>
<rect x="307.8" y="415.7" width="70.2" height="18.6" rx="1" fill="#fff" fill-opacity="0.8" stroke="#d0d0d0" stroke-width="0.6"/>
<rect x="310.40000000000003" y="418.9" width="11.3" height="4" fill="#4a70b4"/>
<rect x="310.40000000000003" y="427.0" width="11.3" height="4" fill="#50a965"/>
<text x="326.0" y="423.0" class="lg">Train <tspan class="mi">R</tspan><tspan class="ms" dy="-2.2">2</tspan><tspan class="mr" dy="2.2"> = 0.992</tspan></text>
<text x="326.0" y="431.09999999999997" class="lg">Test <tspan class="mi">R</tspan><tspan class="ms" dy="-2.2">2</tspan><tspan class="mr" dy="2.2" dx="0.3"> = </tspan><tspan class="mr" dx="0.5">−</tspan><tspan class="mr" dx="2.3">0.068</tspan></text>
</svg>
</body></html>
